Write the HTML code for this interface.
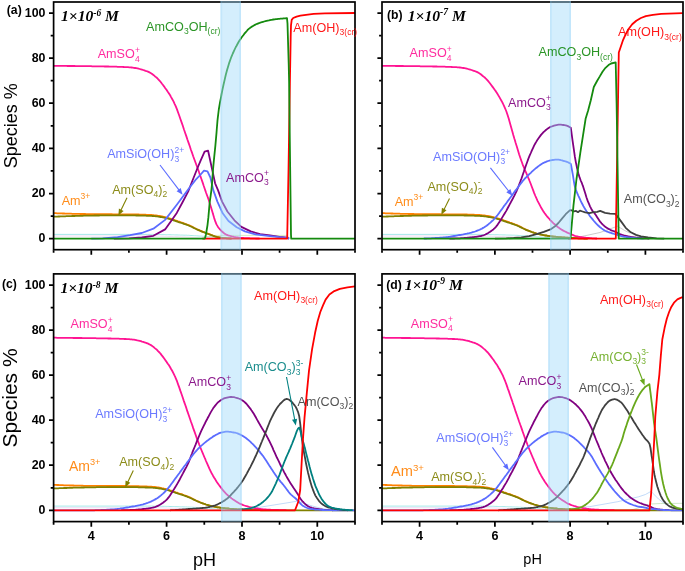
<!DOCTYPE html>
<html lang="en"><head><meta charset="utf-8"><title>Am speciation vs pH</title>
<style>html,body{margin:0;padding:0;background:#fff}body{width:685px;height:571px;overflow:hidden}svg{display:block}</style></head>
<body>
<svg width="685" height="571" viewBox="0 0 685 571" font-family="'Liberation Sans', Arial, sans-serif">
<rect width="685" height="571" fill="#fff"/>
<g id="panel-a">
<clipPath id="clip-a"><rect x="53.6" y="2.0" width="301.4" height="247.7"/></clipPath>
<g clip-path="url(#clip-a)" fill="none" stroke-linejoin="round" stroke-linecap="butt">
<path d="M53.6 234.4 L147.8 234.4 L147.9 234.4 L149.0 234.4 L150.2 234.4 L151.4 234.4 L152.5 234.4 L153.7 234.5 L154.8 234.5 L156.0 234.5 L157.2 234.5 L158.3 234.5 L159.5 234.5 L160.7 234.5 L161.8 234.6 L163.0 234.6 L164.2 234.6 L165.3 234.6 L166.5 234.7 L167.6 234.7 L168.8 234.7 L170.0 234.7 L171.1 234.8 L172.3 234.8 L173.5 234.8 L174.6 234.9 L175.8 234.9 L177.0 234.9 L178.1 235.0 L179.3 235.0 L180.4 235.1 L181.6 235.1 L182.8 235.1 L183.9 235.2 L185.1 235.2 L185.5 235.2 L186.3 235.2 L187.4 235.3 L188.6 235.3 L189.8 235.4 L190.9 235.5 L192.1 235.5 L193.2 235.6 L194.4 235.7 L195.6 235.7 L196.7 235.8 L197.9 235.9 L199.1 236.0 L200.2 236.1 L201.4 236.1 L202.6 236.2 L203.7 236.3 L204.3 236.3 L204.9 236.4 L206.0 236.5 L207.2 236.6 L208.4 236.7 L209.5 236.8 L210.7 236.9 L211.9 237.0 L213.0 237.1 L214.2 237.2 L215.4 237.3 L216.5 237.4 L217.7 237.5 L218.8 237.6 L220.0 237.7 L221.2 237.8 L222.3 237.9 L223.1 237.9 L223.5 237.9 L224.7 238.0 L225.8 238.1 L227.0 238.1 L228.2 238.2 L229.3 238.2 L230.5 238.3 L231.6 238.3 L232.8 238.4 L234.0 238.4 L235.1 238.5 L236.3 238.5 L237.5 238.5" stroke="#8fe3e3" stroke-width="0.8"/>
<path d="M53.6 236.0 L147.8 236.0 L147.9 236.0 L149.0 236.0 L150.2 236.0 L151.4 236.0 L152.5 236.0 L153.7 236.0 L154.8 236.1 L156.0 236.1 L157.2 236.1 L158.3 236.1 L159.5 236.1 L160.7 236.2 L161.8 236.2 L163.0 236.2 L164.2 236.3 L165.3 236.3 L166.5 236.3 L167.6 236.4 L168.8 236.4 L170.0 236.4 L171.1 236.5 L172.3 236.5 L173.5 236.6 L174.6 236.6 L175.8 236.6 L177.0 236.7 L178.1 236.7 L179.3 236.8 L180.4 236.8 L181.6 236.9 L182.8 236.9 L183.9 237.0 L185.1 237.0 L185.5 237.0 L186.3 237.1 L187.4 237.1 L188.6 237.2 L189.8 237.2 L190.9 237.3 L192.1 237.4 L193.2 237.5 L194.4 237.6 L195.6 237.6 L196.7 237.7 L197.9 237.8 L199.1 237.9 L200.2 238.0 L201.4 238.0 L202.6 238.1 L203.7 238.1 L204.3 238.1 L204.9 238.2 L206.0 238.2 L207.2 238.2 L208.4 238.3 L209.5 238.3 L210.7 238.4 L211.9 238.4 L213.0 238.4 L214.2 238.5 L215.4 238.5 L216.5 238.5 L217.7 238.5" stroke="#e3c4ee" stroke-width="0.6"/>
<path d="M200.5 238.6 L215.6 235.4 L287.2 235.4 L289.1 238.6" stroke="#c8e4a8" stroke-width="0.7"/>
<path d="M53.6 213.1 L54.8 213.2 L55.9 213.2 L57.1 213.3 L58.3 213.3 L59.4 213.4 L60.6 213.4 L61.7 213.4 L62.9 213.5 L64.1 213.5 L65.2 213.6 L66.4 213.6 L67.6 213.6 L68.7 213.7 L69.9 213.7 L71.1 213.7 L72.2 213.8 L72.4 213.8 L73.4 213.8 L74.5 213.8 L75.7 213.9 L76.9 213.9 L78.0 213.9 L79.2 213.9 L80.4 214.0 L81.5 214.0 L82.7 214.0 L83.9 214.0 L85.0 214.0 L86.2 214.1 L87.3 214.1 L88.5 214.1 L89.7 214.1 L90.8 214.1 L91.3 214.1 L92.0 214.1 L93.2 214.1 L94.3 214.1 L95.5 214.2 L96.7 214.2 L97.8 214.2 L99.0 214.2 L100.1 214.2 L101.3 214.2 L102.5 214.2 L103.6 214.2 L104.8 214.2 L106.0 214.2 L107.1 214.2 L108.3 214.2 L109.5 214.2 L110.1 214.2 L110.6 214.2 L111.8 214.2 L112.9 214.3 L114.1 214.3 L115.3 214.3 L116.4 214.3 L117.6 214.3 L118.8 214.3 L119.9 214.3 L121.1 214.3 L122.3 214.3 L123.4 214.3 L124.6 214.3 L125.7 214.3 L126.9 214.3 L128.1 214.3 L129.2 214.3 L130.1 214.3 L130.4 214.4 L131.6 214.4 L132.7 214.4 L133.9 214.4 L135.1 214.4 L136.2 214.5 L137.4 214.5 L138.6 214.5 L139.7 214.6 L140.9 214.6 L142.0 214.6 L143.2 214.7 L144.0 214.7 L144.4 214.7 L145.5 214.7 L146.7 214.8 L147.9 214.8 L149.0 214.9 L150.2 214.9 L151.4 215.0 L152.5 215.1 L153.4 215.1 L153.7 215.2 L154.8 215.3 L156.0 215.4 L157.2 215.6 L158.3 215.8 L159.5 216.0 L160.7 216.2 L161.8 216.4 L163.0 216.7 L164.2 217.0 L165.1 217.2 L165.3 217.2 L166.5 217.5 L167.6 217.8 L168.8 218.2 L170.0 218.5 L171.1 218.9 L172.3 219.3 L173.5 219.7 L174.6 220.1 L175.8 220.5 L176.8 220.9 L177.0 220.9 L178.1 221.3 L179.3 221.7 L180.4 222.1 L181.6 222.5 L182.8 222.9 L183.9 223.3 L185.1 223.8 L186.3 224.2 L187.4 224.7 L188.6 225.1 L189.2 225.4 L189.8 225.6 L190.9 226.2 L192.1 226.7 L193.2 227.3 L194.4 228.0 L195.6 228.5 L196.7 229.1 L197.3 229.4 L197.9 229.6 L199.1 230.1 L200.2 230.6 L201.4 231.1 L202.6 231.6 L203.7 232.0 L204.9 232.5 L206.0 232.9 L207.2 233.4 L208.4 233.8 L209.5 234.2 L210.7 234.7 L211.0 234.8 L211.9 235.1 L213.0 235.5 L214.2 236.0 L215.4 236.4 L216.5 236.7 L216.9 236.8 L217.7 237.0 L218.8 237.2 L220.0 237.5 L221.2 237.7 L222.3 237.8 L223.1 237.9 L223.5 238.0 L224.7 238.1 L225.8 238.2 L227.0 238.3 L228.2 238.4 L229.3 238.4 L230.5 238.5 L231.6 238.5" stroke="#ff8000" stroke-width="1.8"/>
<path d="M53.6 216.7 L54.8 216.7 L55.9 216.6 L57.1 216.6 L58.3 216.5 L59.4 216.5 L60.6 216.4 L61.7 216.4 L62.9 216.4 L64.1 216.3 L65.2 216.3 L66.4 216.2 L67.6 216.2 L68.7 216.2 L69.9 216.1 L71.1 216.1 L72.2 216.0 L72.4 216.0 L73.4 216.0 L74.5 216.0 L75.7 215.9 L76.9 215.9 L78.0 215.9 L79.2 215.9 L80.4 215.8 L81.5 215.8 L82.7 215.8 L83.9 215.7 L85.0 215.7 L86.2 215.7 L87.3 215.7 L88.5 215.6 L89.7 215.6 L90.8 215.6 L91.3 215.6 L92.0 215.6 L93.2 215.6 L94.3 215.5 L95.5 215.5 L96.7 215.5 L97.8 215.5 L99.0 215.5 L100.1 215.4 L101.3 215.4 L102.5 215.4 L103.6 215.4 L104.8 215.4 L106.0 215.4 L107.1 215.4 L108.3 215.4 L109.5 215.4 L110.1 215.4 L130.1 215.4 L130.4 215.4 L131.6 215.4 L132.7 215.4 L133.9 215.4 L135.1 215.4 L136.2 215.5 L137.4 215.5 L138.6 215.5 L139.7 215.6 L140.9 215.6 L142.0 215.6 L143.2 215.7 L144.0 215.7 L144.4 215.7 L145.5 215.7 L146.7 215.8 L147.9 215.8 L149.0 215.8 L150.2 215.9 L151.4 215.9 L152.5 216.0 L153.4 216.0 L153.7 216.1 L154.8 216.1 L156.0 216.3 L157.2 216.4 L158.3 216.6 L159.5 216.8 L160.7 217.0 L161.8 217.2 L163.0 217.4 L164.2 217.6 L165.1 217.8 L165.3 217.9 L166.5 218.2 L167.6 218.5 L168.8 218.8 L170.0 219.2 L171.1 219.5 L172.3 219.9 L173.5 220.3 L174.6 220.7 L175.8 221.1 L176.8 221.5 L177.0 221.5 L178.1 221.9 L179.3 222.3 L180.4 222.6 L181.6 223.0 L182.8 223.4 L183.9 223.8 L185.1 224.2 L186.3 224.6 L187.4 225.0 L188.6 225.5 L189.2 225.7 L189.8 226.0 L190.9 226.5 L192.1 227.0 L193.2 227.6 L194.4 228.2 L195.6 228.8 L196.7 229.3 L197.3 229.6 L197.9 229.8 L199.1 230.3 L200.2 230.8 L201.4 231.3 L202.6 231.8 L203.7 232.2 L204.9 232.7 L206.0 233.1 L207.2 233.6 L208.4 234.0 L209.5 234.5 L210.7 234.9 L211.0 235.0 L211.9 235.3 L213.0 235.8 L214.2 236.2 L215.4 236.6 L216.5 236.9 L216.9 237.0 L217.7 237.2 L218.8 237.4 L220.0 237.6 L221.2 237.8 L222.3 238.0 L223.1 238.0 L223.5 238.1 L224.7 238.2 L225.8 238.2 L227.0 238.3 L228.2 238.4 L229.3 238.5 L230.5 238.5 L231.6 238.6" stroke="#808000" stroke-width="1.8"/>
<path d="M53.6 65.8 L54.8 65.8 L55.9 65.8 L57.1 65.8 L58.3 65.8 L59.4 65.9 L60.6 65.9 L61.7 65.9 L62.9 65.9 L64.1 65.9 L65.2 65.9 L66.4 65.9 L67.6 66.0 L68.7 66.0 L69.9 66.0 L71.1 66.0 L72.2 66.0 L72.4 66.0 L73.4 66.0 L74.5 66.0 L75.7 66.1 L76.9 66.1 L78.0 66.1 L79.2 66.1 L80.4 66.1 L81.5 66.1 L82.7 66.1 L83.9 66.1 L85.0 66.2 L86.2 66.2 L87.3 66.2 L88.5 66.2 L89.7 66.2 L90.8 66.2 L91.3 66.2 L92.0 66.3 L93.2 66.3 L94.3 66.3 L95.5 66.3 L96.7 66.3 L97.8 66.3 L99.0 66.4 L100.1 66.4 L101.3 66.4 L102.5 66.4 L103.6 66.4 L104.8 66.5 L106.0 66.5 L107.1 66.5 L108.3 66.5 L109.5 66.6 L110.1 66.6 L110.6 66.6 L111.8 66.6 L112.9 66.7 L114.1 66.7 L115.3 66.7 L116.4 66.7 L117.6 66.8 L118.8 66.8 L119.9 66.9 L121.1 66.9 L122.3 66.9 L123.4 67.0 L124.6 67.1 L125.7 67.1 L126.9 67.2 L128.1 67.2 L129.2 67.3 L130.1 67.4 L130.4 67.4 L131.6 67.5 L132.7 67.6 L133.9 67.8 L135.1 68.0 L136.2 68.2 L137.4 68.4 L138.6 68.7 L139.7 69.0 L140.9 69.3 L142.0 69.6 L143.2 70.0 L144.4 70.4 L145.5 70.8 L146.7 71.2 L147.4 71.4 L147.9 71.6 L149.0 72.1 L150.2 72.8 L151.4 73.5 L152.5 74.3 L153.7 75.2 L154.8 76.2 L156.0 77.1 L156.5 77.5 L157.2 78.2 L158.3 79.3 L159.5 80.6 L160.7 82.0 L161.8 83.5 L163.0 85.0 L164.2 86.6 L165.1 87.9 L165.3 88.2 L166.5 89.8 L167.6 91.5 L168.8 93.2 L170.0 95.1 L170.4 95.8 L171.1 97.1 L172.3 99.2 L173.5 101.4 L174.6 103.8 L175.1 104.8 L175.8 106.4 L177.0 109.4 L178.1 112.5 L179.3 115.7 L179.8 117.2 L180.4 119.0 L181.6 122.4 L182.8 125.8 L183.9 129.3 L184.6 131.2 L185.1 132.7 L186.3 136.1 L187.4 139.5 L188.6 142.9 L189.8 146.3 L190.9 149.7 L191.9 152.4 L192.1 153.0 L193.2 156.3 L194.4 159.5 L195.6 162.7 L196.7 165.8 L197.9 169.0 L199.1 172.3 L199.2 172.7 L200.2 175.6 L201.4 179.0 L202.6 182.4 L203.7 185.8 L204.9 189.2 L205.2 190.1 L206.0 192.5 L207.2 195.7 L208.4 198.9 L209.3 201.6 L209.5 202.4 L210.7 206.3 L211.9 210.3 L212.8 213.3 L213.0 214.1 L214.2 218.1 L215.4 221.7 L216.3 223.9 L216.5 224.4 L217.7 226.4 L218.8 228.0 L220.0 229.4 L220.4 229.8 L221.2 230.6 L222.3 231.8 L223.5 232.8 L224.7 233.7 L225.0 233.9 L225.8 234.3 L227.0 234.8 L228.2 235.3 L229.3 235.7 L230.5 236.0 L230.9 236.1 L231.6 236.3 L232.8 236.6 L234.0 236.9 L235.1 237.1 L236.3 237.4 L237.5 237.5 L238.6 237.7 L239.0 237.7 L239.8 237.8 L241.0 237.8 L242.1 237.9 L243.3 238.0 L244.4 238.1 L245.6 238.1 L246.8 238.2 L247.9 238.2 L249.1 238.2 L250.3 238.3 L251.4 238.3 L252.6 238.4 L253.3 238.4 L253.8 238.4 L254.9 238.4 L256.1 238.5 L257.2 238.5 L258.4 238.5 L259.6 238.5" stroke="#ff1493" stroke-width="1.8"/>
<path d="M113.9 238.6 L128.9 238.4 L141.8 237.5 L153.4 235.8 L165.1 229.4 L176.8 212.9 L182.4 202.5 L188.5 190.8 L192.6 180.2 L197.5 168.0 L200.5 160.8 L204.6 151.7 L208.1 150.7 L215.1 183.3 L218.0 190.1 L222.1 201.6 L227.4 211.5 L234.4 220.3 L241.4 226.9 L250.7 231.4 L260.1 234.1 L270.0 235.4 L279.6 236.8 L287.2 237.7 L289.1 238.6" stroke="#800080" stroke-width="1.8"/>
<path d="M91.3 238.6 L102.6 238.3 L117.6 237.2 L130.1 235.2 L141.8 233.0 L153.4 228.7 L165.1 219.9 L176.8 204.8 L188.5 189.0 L195.3 180.2 L200.2 175.0 L204.0 170.7 L207.5 171.4 L210.4 177.5 L213.3 190.1 L217.4 201.6 L222.7 213.3 L228.5 221.0 L236.7 227.3 L244.9 231.4 L255.4 234.3 L270.0 236.1 L279.6 237.2 L287.2 237.9 L289.1 238.6" stroke="#5b6cff" stroke-width="1.8"/>
<path d="M202.4 238.6 L287.2 238.6 L288.5 170.9 L290.0 76.2 L290.7 36.5 L291.0 25.4 L291.7 19.8 L293.2 18.0 L296.6 16.6 L300.4 15.7 L306.0 14.8 L313.6 13.9 L324.9 13.3 L355.0 13.0" stroke="#ff0000" stroke-width="1.8"/>
<path d="M53.6 238.6 L204.6 238.6 L204.9 238.4 L206.0 234.2 L207.2 227.0 L207.5 225.1 L208.4 217.2 L209.5 204.4 L209.8 201.6 L210.7 195.4 L211.4 190.1 L211.9 185.0 L213.0 170.2 L213.3 166.4 L214.2 157.2 L215.4 145.4 L216.5 132.8 L216.7 130.3 L217.5 120.4 L217.7 118.6 L218.8 109.5 L220.0 102.4 L221.2 96.3 L221.6 94.0 L222.3 90.4 L223.5 84.8 L224.7 79.6 L225.8 74.7 L227.0 70.3 L228.2 66.2 L228.8 64.2 L229.3 62.6 L230.5 59.3 L231.6 56.3 L232.8 53.5 L234.0 50.9 L235.1 48.5 L235.9 46.8 L236.3 46.2 L237.5 44.0 L238.6 42.0 L239.8 40.1 L241.0 38.4 L241.2 38.0 L242.1 36.8 L243.3 35.3 L244.4 33.7 L245.6 32.3 L246.8 31.0 L247.9 29.7 L249.1 28.6 L250.3 27.7 L250.6 27.4 L251.4 26.9 L252.6 26.2 L253.8 25.5 L254.9 24.9 L256.1 24.3 L257.2 23.8 L258.4 23.3 L259.6 22.9 L260.7 22.5 L260.8 22.5 L261.9 22.1 L263.1 21.8 L264.2 21.5 L265.4 21.2 L266.6 20.9 L267.7 20.6 L268.9 20.4 L270.0 20.1 L271.2 19.9 L272.1 19.8 L272.4 19.7 L273.5 19.5 L274.7 19.4 L275.9 19.2 L277.0 19.1 L278.2 18.9 L279.4 18.8 L280.5 18.7 L281.7 18.6 L282.9 18.5 L283.4 18.4 L284.0 18.4 L285.2 18.3 L286.3 18.2 L287.0 18.2 L287.5 23.6 L288.7 63.5 L289.1 80.7 L289.8 139.9 L291.0 234.8 L291.2 238.6 L355.0 238.6" stroke="#148a0e" stroke-width="1.8"/>
</g>
<rect x="53.6" y="2.0" width="301.4" height="247.7" fill="none" stroke="#000" stroke-width="1.7"/>
<rect x="220.40" y="1.0" width="20.60" height="248.9" fill="#a0dafb" fill-opacity="0.45"/><rect x="220.40" y="1.0" width="1.8" height="248.9" fill="#6cc0f5" fill-opacity="0.16"/><rect x="239.20" y="1.0" width="1.8" height="248.9" fill="#6cc0f5" fill-opacity="0.16"/>
<path d="M53.1 238.6h-4.1 M53.1 216.0h-2.4 M53.1 193.5h-4.1 M53.1 170.9h-2.4 M53.1 148.4h-4.1 M53.1 125.8h-2.4 M53.1 103.2h-4.1 M53.1 80.7h-2.4 M53.1 58.1h-4.1 M53.1 35.6h-2.4 M53.1 13.0h-4.1 M53.6 250.2v2.6 M91.3 250.2v4.6 M128.9 250.2v2.6 M166.6 250.2v4.6 M204.3 250.2v2.6 M242.0 250.2v4.6 M279.6 250.2v2.6 M317.3 250.2v4.6 M355.0 250.2v2.6" stroke="#000" stroke-width="1.75" fill="none"/>
<text transform="translate(45.5,242.2) scale(1,1.08)" font-size="12.4" font-weight="bold" text-anchor="end">0</text>
<text transform="translate(45.5,197.1) scale(1,1.08)" font-size="12.4" font-weight="bold" text-anchor="end">20</text>
<text transform="translate(45.5,152.0) scale(1,1.08)" font-size="12.4" font-weight="bold" text-anchor="end">40</text>
<text transform="translate(45.5,106.8) scale(1,1.08)" font-size="12.4" font-weight="bold" text-anchor="end">60</text>
<text transform="translate(45.5,61.7) scale(1,1.08)" font-size="12.4" font-weight="bold" text-anchor="end">80</text>
<text transform="translate(45.5,16.6) scale(1,1.08)" font-size="12.4" font-weight="bold" text-anchor="end">100</text>
</g>
<g id="panel-b">
<clipPath id="clip-b"><rect x="382.0" y="2.0" width="301.0" height="247.7"/></clipPath>
<g clip-path="url(#clip-b)" fill="none" stroke-linejoin="round" stroke-linecap="butt">
<path d="M382.0 234.4 L476.1 234.4 L476.1 234.4 L477.3 234.4 L478.5 234.4 L479.6 234.4 L480.8 234.4 L481.9 234.5 L483.1 234.5 L484.3 234.5 L485.4 234.5 L486.6 234.5 L487.8 234.5 L488.9 234.5 L490.1 234.6 L491.2 234.6 L492.4 234.6 L493.6 234.6 L494.7 234.7 L495.9 234.7 L497.1 234.7 L498.2 234.7 L499.4 234.8 L500.5 234.8 L501.7 234.8 L502.9 234.9 L504.0 234.9 L505.2 234.9 L506.4 235.0 L507.5 235.0 L508.7 235.1 L509.8 235.1 L511.0 235.1 L512.2 235.2 L513.3 235.2 L513.7 235.2 L514.5 235.2 L515.6 235.3 L516.8 235.3 L518.0 235.4 L519.1 235.5 L520.3 235.5 L521.5 235.6 L522.6 235.7 L523.8 235.7 L524.9 235.8 L526.1 235.9 L527.3 236.0 L528.4 236.1 L529.6 236.1 L530.8 236.2 L531.9 236.3 L532.5 236.3 L533.1 236.4 L534.2 236.5 L535.4 236.6 L536.6 236.7 L537.7 236.8 L538.9 236.9 L540.1 237.0 L541.2 237.1 L542.4 237.2 L543.5 237.3 L544.7 237.4 L545.9 237.5 L547.0 237.6 L548.2 237.7 L549.4 237.8 L550.5 237.9 L551.3 237.9 L551.7 237.9 L552.8 238.0 L554.0 238.1 L555.2 238.1 L556.3 238.2 L557.5 238.2 L558.6 238.3 L559.8 238.3 L561.0 238.4 L562.1 238.4 L563.3 238.5 L564.5 238.5 L565.6 238.5" stroke="#8fe3e3" stroke-width="0.8"/>
<path d="M382.0 236.0 L476.1 236.0 L476.1 236.0 L477.3 236.0 L478.5 236.0 L479.6 236.0 L480.8 236.0 L481.9 236.0 L483.1 236.1 L484.3 236.1 L485.4 236.1 L486.6 236.1 L487.8 236.1 L488.9 236.2 L490.1 236.2 L491.2 236.2 L492.4 236.3 L493.6 236.3 L494.7 236.3 L495.9 236.4 L497.1 236.4 L498.2 236.4 L499.4 236.5 L500.5 236.5 L501.7 236.6 L502.9 236.6 L504.0 236.6 L505.2 236.7 L506.4 236.7 L507.5 236.8 L508.7 236.8 L509.8 236.9 L511.0 236.9 L512.2 237.0 L513.3 237.0 L513.7 237.0 L514.5 237.1 L515.6 237.1 L516.8 237.2 L518.0 237.2 L519.1 237.3 L520.3 237.4 L521.5 237.5 L522.6 237.6 L523.8 237.6 L524.9 237.7 L526.1 237.8 L527.3 237.9 L528.4 238.0 L529.6 238.0 L530.8 238.1 L531.9 238.1 L532.5 238.1 L533.1 238.2 L534.2 238.2 L535.4 238.2 L536.6 238.3 L537.7 238.3 L538.9 238.4 L540.1 238.4 L541.2 238.4 L542.4 238.5 L543.5 238.5 L544.7 238.5 L545.9 238.5" stroke="#e3c4ee" stroke-width="0.6"/>
<path d="M572.0 238.6 L600.0 232.5 L617.5 226.2 L624.7 230.5 L630.3 233.2" stroke="#b5b5b5" stroke-width="0.7"/>
<path d="M382.0 213.1 L383.2 213.2 L384.3 213.2 L385.5 213.3 L386.6 213.3 L387.8 213.4 L389.0 213.4 L390.1 213.4 L391.3 213.5 L392.5 213.5 L393.6 213.6 L394.8 213.6 L395.9 213.6 L397.1 213.7 L398.3 213.7 L399.4 213.7 L400.6 213.8 L400.8 213.8 L401.8 213.8 L402.9 213.8 L404.1 213.9 L405.2 213.9 L406.4 213.9 L407.6 213.9 L408.7 214.0 L409.9 214.0 L411.1 214.0 L412.2 214.0 L413.4 214.0 L414.5 214.1 L415.7 214.1 L416.9 214.1 L418.0 214.1 L419.2 214.1 L419.6 214.1 L420.4 214.1 L421.5 214.1 L422.7 214.1 L423.8 214.2 L425.0 214.2 L426.2 214.2 L427.3 214.2 L428.5 214.2 L429.6 214.2 L430.8 214.2 L432.0 214.2 L433.1 214.2 L434.3 214.2 L435.5 214.2 L436.6 214.2 L437.8 214.2 L438.4 214.2 L438.9 214.2 L440.1 214.2 L441.3 214.3 L442.4 214.3 L443.6 214.3 L444.8 214.3 L445.9 214.3 L447.1 214.3 L448.2 214.3 L449.4 214.3 L450.6 214.3 L451.7 214.3 L452.9 214.3 L454.1 214.3 L455.2 214.3 L456.4 214.3 L457.5 214.3 L458.4 214.3 L458.7 214.4 L459.9 214.4 L461.0 214.4 L462.2 214.4 L463.4 214.4 L464.5 214.5 L465.7 214.5 L466.8 214.5 L468.0 214.6 L469.2 214.6 L470.3 214.6 L471.5 214.7 L472.3 214.7 L472.6 214.7 L473.8 214.7 L475.0 214.8 L476.1 214.8 L477.3 214.9 L478.5 214.9 L479.6 215.0 L480.8 215.1 L481.7 215.1 L481.9 215.2 L483.1 215.3 L484.3 215.4 L485.4 215.6 L486.6 215.8 L487.8 216.0 L488.9 216.2 L490.1 216.4 L491.2 216.7 L492.4 217.0 L493.4 217.2 L493.6 217.2 L494.7 217.5 L495.9 217.8 L497.1 218.2 L498.2 218.5 L499.4 218.9 L500.5 219.3 L501.7 219.7 L502.9 220.1 L504.0 220.5 L505.0 220.9 L505.2 220.9 L506.4 221.3 L507.5 221.7 L508.7 222.1 L509.8 222.5 L511.0 222.9 L512.2 223.3 L513.3 223.8 L514.5 224.2 L515.6 224.7 L516.8 225.1 L517.5 225.4 L518.0 225.6 L519.1 226.2 L520.3 226.7 L521.5 227.3 L522.6 228.0 L523.8 228.5 L524.9 229.1 L525.5 229.4 L526.1 229.6 L527.3 230.1 L528.4 230.6 L529.6 231.1 L530.8 231.5 L531.9 232.0 L532.8 232.3 L533.1 232.4 L534.2 232.8 L535.4 233.1 L536.6 233.5 L537.7 233.8 L538.9 234.2 L540.0 234.4 L540.1 234.4 L541.2 234.7 L542.4 234.9 L543.5 235.1 L544.7 235.4 L545.9 235.5 L547.0 235.7 L547.4 235.8 L548.2 235.9 L549.4 236.1 L550.5 236.2 L551.7 236.4 L552.8 236.5 L554.0 236.6 L554.7 236.7 L555.2 236.7 L556.3 236.8 L557.5 236.9 L558.6 237.1 L559.8 237.1 L561.0 237.2 L562.1 237.3 L562.6 237.4 L563.3 237.4 L564.5 237.5 L565.6 237.6 L566.8 237.6 L567.9 237.7 L569.1 237.8 L570.1 237.8 L570.3 237.8 L571.4 237.9 L572.6 238.0 L573.8 238.0 L574.9 238.1 L576.1 238.1 L577.2 238.2 L578.4 238.3 L579.6 238.3 L580.7 238.4 L581.4 238.4 L581.9 238.4 L583.1 238.4 L584.2 238.5 L585.4 238.5 L586.5 238.5 L587.7 238.5" stroke="#ff8000" stroke-width="1.8"/>
<path d="M382.0 216.7 L383.2 216.7 L384.3 216.6 L385.5 216.6 L386.6 216.5 L387.8 216.5 L389.0 216.4 L390.1 216.4 L391.3 216.4 L392.5 216.3 L393.6 216.3 L394.8 216.2 L395.9 216.2 L397.1 216.2 L398.3 216.1 L399.4 216.1 L400.6 216.0 L400.8 216.0 L401.8 216.0 L402.9 216.0 L404.1 215.9 L405.2 215.9 L406.4 215.9 L407.6 215.9 L408.7 215.8 L409.9 215.8 L411.1 215.8 L412.2 215.7 L413.4 215.7 L414.5 215.7 L415.7 215.7 L416.9 215.6 L418.0 215.6 L419.2 215.6 L419.6 215.6 L420.4 215.6 L421.5 215.6 L422.7 215.5 L423.8 215.5 L425.0 215.5 L426.2 215.5 L427.3 215.5 L428.5 215.4 L429.6 215.4 L430.8 215.4 L432.0 215.4 L433.1 215.4 L434.3 215.4 L435.5 215.4 L436.6 215.4 L437.8 215.4 L438.4 215.4 L458.4 215.4 L458.7 215.4 L459.9 215.4 L461.0 215.4 L462.2 215.4 L463.4 215.4 L464.5 215.5 L465.7 215.5 L466.8 215.5 L468.0 215.6 L469.2 215.6 L470.3 215.6 L471.5 215.7 L472.3 215.7 L472.6 215.7 L473.8 215.7 L475.0 215.8 L476.1 215.8 L477.3 215.8 L478.5 215.9 L479.6 215.9 L480.8 216.0 L481.7 216.0 L481.9 216.1 L483.1 216.1 L484.3 216.3 L485.4 216.4 L486.6 216.6 L487.8 216.8 L488.9 217.0 L490.1 217.2 L491.2 217.4 L492.4 217.6 L493.4 217.8 L493.6 217.9 L494.7 218.2 L495.9 218.5 L497.1 218.8 L498.2 219.2 L499.4 219.5 L500.5 219.9 L501.7 220.3 L502.9 220.7 L504.0 221.1 L505.0 221.5 L505.2 221.5 L506.4 221.9 L507.5 222.3 L508.7 222.6 L509.8 223.0 L511.0 223.4 L512.2 223.8 L513.3 224.2 L514.5 224.6 L515.6 225.0 L516.8 225.5 L517.5 225.7 L518.0 226.0 L519.1 226.5 L520.3 227.1 L521.5 227.6 L522.6 228.2 L523.8 228.8 L524.9 229.3 L525.5 229.6 L526.1 229.8 L527.3 230.3 L528.4 230.7 L529.6 231.2 L530.8 231.6 L531.9 232.0 L532.8 232.3 L533.1 232.4 L534.2 232.8 L535.4 233.1 L536.6 233.5 L537.7 233.8 L538.9 234.2 L540.0 234.4 L540.1 234.4 L541.2 234.7 L542.4 234.9 L543.5 235.1 L544.7 235.4 L545.9 235.5 L547.0 235.7 L547.4 235.8 L548.2 235.9 L549.4 236.1 L550.5 236.2 L551.7 236.4 L552.8 236.5 L554.0 236.6 L554.7 236.7 L555.2 236.7 L556.3 236.8 L557.5 236.9 L558.6 237.1 L559.8 237.1 L561.0 237.2 L562.1 237.3 L562.6 237.4 L563.3 237.4 L564.5 237.5 L565.6 237.6 L566.8 237.6 L567.9 237.7 L569.1 237.8 L570.1 237.8 L570.3 237.8 L571.4 237.9 L572.6 238.0 L573.8 238.0 L574.9 238.1 L576.1 238.1 L577.2 238.2 L578.4 238.3 L579.6 238.3 L580.7 238.4 L581.4 238.4 L581.9 238.4 L583.1 238.4 L584.2 238.5 L585.4 238.5 L586.5 238.5 L587.7 238.5" stroke="#808000" stroke-width="1.8"/>
<path d="M382.0 65.8 L383.2 65.8 L384.3 65.8 L385.5 65.8 L386.6 65.8 L387.8 65.9 L389.0 65.9 L390.1 65.9 L391.3 65.9 L392.5 65.9 L393.6 65.9 L394.8 65.9 L395.9 66.0 L397.1 66.0 L398.3 66.0 L399.4 66.0 L400.6 66.0 L400.8 66.0 L401.8 66.0 L402.9 66.0 L404.1 66.1 L405.2 66.1 L406.4 66.1 L407.6 66.1 L408.7 66.1 L409.9 66.1 L411.1 66.1 L412.2 66.1 L413.4 66.2 L414.5 66.2 L415.7 66.2 L416.9 66.2 L418.0 66.2 L419.2 66.2 L419.6 66.2 L420.4 66.3 L421.5 66.3 L422.7 66.3 L423.8 66.3 L425.0 66.3 L426.2 66.3 L427.3 66.4 L428.5 66.4 L429.6 66.4 L430.8 66.4 L432.0 66.4 L433.1 66.5 L434.3 66.5 L435.5 66.5 L436.6 66.5 L437.8 66.6 L438.4 66.6 L438.9 66.6 L440.1 66.6 L441.3 66.7 L442.4 66.7 L443.6 66.7 L444.8 66.7 L445.9 66.8 L447.1 66.8 L448.2 66.9 L449.4 66.9 L450.6 66.9 L451.7 67.0 L452.9 67.1 L454.1 67.1 L455.2 67.2 L456.4 67.2 L457.5 67.3 L458.4 67.4 L458.7 67.4 L459.9 67.5 L461.0 67.6 L462.2 67.8 L463.4 68.0 L464.5 68.2 L465.7 68.4 L466.8 68.7 L468.0 69.0 L469.2 69.3 L470.3 69.6 L471.5 70.0 L472.6 70.4 L473.8 70.8 L475.0 71.2 L475.7 71.4 L476.1 71.6 L477.3 72.1 L478.5 72.8 L479.6 73.5 L480.8 74.3 L481.9 75.2 L483.1 76.2 L484.3 77.1 L484.7 77.5 L485.4 78.2 L486.6 79.3 L487.8 80.6 L488.9 82.0 L490.1 83.5 L491.2 85.0 L492.4 86.6 L493.4 87.9 L493.6 88.2 L494.7 89.8 L495.9 91.4 L497.1 93.2 L498.2 95.1 L498.6 95.8 L499.4 97.1 L500.5 99.1 L501.7 101.2 L502.9 103.5 L504.0 105.9 L505.2 108.6 L505.8 110.0 L506.4 111.5 L507.5 114.8 L508.7 118.6 L509.8 122.6 L511.0 126.7 L512.2 130.9 L513.3 135.1 L514.5 139.0 L514.6 139.3 L515.6 142.8 L516.8 146.6 L518.0 150.4 L519.1 154.2 L520.3 157.8 L521.5 161.2 L521.9 162.3 L522.6 164.3 L523.8 167.2 L524.9 170.0 L526.1 172.7 L527.3 175.4 L528.4 178.1 L529.2 179.9 L529.6 181.0 L530.8 184.0 L531.9 187.0 L533.1 190.1 L534.2 193.1 L535.4 196.0 L536.5 198.4 L536.6 198.6 L537.7 201.1 L538.9 203.4 L540.1 205.7 L541.2 207.8 L542.4 209.8 L543.5 211.6 L543.8 212.0 L544.7 213.3 L545.9 214.9 L547.0 216.3 L548.2 217.7 L549.4 219.0 L550.5 220.3 L551.1 220.9 L551.7 221.5 L552.8 222.7 L554.0 223.8 L555.2 224.8 L556.3 225.8 L557.5 226.8 L558.4 227.4 L558.6 227.6 L559.8 228.4 L561.0 229.2 L562.1 229.9 L563.3 230.6 L564.5 231.2 L565.6 231.8 L565.7 231.8 L566.8 232.4 L567.9 232.9 L569.1 233.4 L570.3 233.9 L570.8 234.1 L571.4 234.4 L572.6 234.9 L573.8 235.4 L574.9 235.8 L575.9 236.1 L576.1 236.2 L577.2 236.4 L578.4 236.7 L579.6 236.9 L580.7 237.1 L581.8 237.2 L581.9 237.3 L583.1 237.4 L584.2 237.6 L585.4 237.7 L586.5 237.8 L587.7 237.9 L588.9 238.0 L588.9 238.0 L590.0 238.1 L591.2 238.2 L592.4 238.3 L593.5 238.4 L594.7 238.4 L595.8 238.5 L597.0 238.5" stroke="#ff1493" stroke-width="1.8"/>
<path d="M449.4 238.5 L450.6 238.5 L451.7 238.5 L452.9 238.5 L454.1 238.5 L455.2 238.4 L456.4 238.4 L457.2 238.4 L457.5 238.4 L458.7 238.3 L459.9 238.3 L461.0 238.2 L462.2 238.1 L463.4 238.1 L464.5 238.0 L465.7 237.9 L466.8 237.8 L468.0 237.7 L469.2 237.6 L470.0 237.5 L470.3 237.4 L471.5 237.3 L472.6 237.2 L473.8 237.1 L475.0 236.9 L476.1 236.8 L477.3 236.6 L478.5 236.4 L479.6 236.2 L480.8 236.0 L481.7 235.8 L481.9 235.7 L483.1 235.4 L484.3 235.0 L485.4 234.5 L486.6 233.9 L487.8 233.3 L488.9 232.6 L490.1 231.8 L491.2 231.0 L492.4 230.1 L493.4 229.4 L493.6 229.2 L494.7 228.1 L495.9 226.8 L497.1 225.4 L498.2 223.8 L499.4 222.1 L500.5 220.2 L501.7 218.4 L502.9 216.4 L504.0 214.5 L505.0 212.9 L505.2 212.6 L506.4 210.6 L507.5 208.5 L508.7 206.3 L509.8 204.1 L510.7 202.5 L511.0 201.9 L512.2 199.7 L513.3 197.6 L514.5 195.4 L515.6 193.0 L516.7 190.8 L516.8 190.5 L518.0 187.7 L519.1 184.7 L520.3 181.6 L520.8 180.2 L521.5 178.5 L522.6 175.2 L523.8 171.8 L524.9 168.4 L526.1 165.0 L527.3 161.7 L528.4 158.6 L529.2 156.7 L529.6 155.7 L530.8 153.0 L531.9 150.3 L533.1 147.8 L534.2 145.4 L535.4 143.2 L536.5 141.4 L536.6 141.2 L537.7 139.4 L538.9 137.7 L540.1 136.1 L541.2 134.6 L542.4 133.3 L543.5 132.1 L543.8 131.9 L544.7 131.1 L545.9 130.0 L547.0 129.1 L548.2 128.2 L549.4 127.5 L550.5 126.9 L551.1 126.7 L551.7 126.5 L552.8 126.1 L554.0 125.7 L555.2 125.4 L556.3 125.1 L557.5 124.9 L558.6 124.7 L559.8 124.7 L559.9 124.7 L561.0 124.7 L562.1 124.8 L563.3 125.0 L564.5 125.2 L565.6 125.4 L566.8 125.7 L567.1 125.8 L567.9 126.1 L569.1 126.8 L569.7 127.2 L570.3 127.4 L570.8 127.8 L571.4 131.9 L571.6 133.5 L572.6 140.8 L573.0 143.6 L573.8 149.1 L574.9 156.9 L575.9 162.6 L576.1 163.4 L577.2 168.8 L578.4 173.4 L579.5 177.2 L579.6 177.3 L580.7 180.5 L581.9 183.2 L582.5 184.9 L583.1 186.4 L584.2 190.0 L585.4 193.8 L586.5 197.5 L587.7 200.9 L588.0 201.6 L588.9 203.7 L590.0 206.3 L591.2 208.7 L592.4 210.7 L592.6 211.1 L593.5 212.2 L594.7 213.5 L595.0 213.9 L595.8 215.1 L597.0 216.9 L598.2 218.8 L599.3 220.5 L600.1 221.6 L600.5 222.0 L601.6 223.3 L602.8 224.6 L604.0 225.7 L605.1 226.6 L605.1 226.7 L606.3 227.5 L607.5 228.3 L608.6 228.9 L609.8 229.5 L610.3 229.8 L610.9 230.1 L612.1 230.6 L613.3 231.0 L614.4 231.4 L615.4 231.8 L615.6 231.9 L616.8 232.5 L617.9 233.1 L619.1 233.7 L620.2 234.2 L620.5 234.3 L621.4 234.6 L622.6 235.0 L623.7 235.4 L624.9 235.7 L625.7 235.9 L626.1 236.0 L627.2 236.2 L628.4 236.5 L629.5 236.7 L630.7 236.9 L630.8 236.9 L631.9 237.1 L633.0 237.2 L634.2 237.3 L635.4 237.5 L636.5 237.6 L637.7 237.7 L637.9 237.7 L638.8 237.8 L640.0 237.9 L641.2 238.0 L642.3 238.2 L643.5 238.3 L644.6 238.3 L645.4 238.4 L645.8 238.4 L647.0 238.4 L648.1 238.5 L649.3 238.5" stroke="#800080" stroke-width="1.8"/>
<path d="M423.8 238.5 L425.0 238.5 L426.2 238.5 L427.3 238.4 L428.5 238.4 L429.6 238.3 L430.8 238.3 L430.9 238.3 L432.0 238.2 L433.1 238.2 L434.3 238.1 L435.5 238.0 L436.6 238.0 L437.8 237.9 L438.9 237.8 L440.1 237.7 L441.3 237.7 L442.4 237.6 L443.6 237.5 L444.8 237.4 L445.9 237.3 L446.0 237.2 L447.1 237.1 L448.2 237.0 L449.4 236.8 L450.6 236.6 L451.7 236.4 L452.9 236.2 L454.1 236.0 L455.2 235.8 L456.4 235.6 L457.5 235.4 L458.4 235.2 L458.7 235.2 L459.9 235.0 L461.0 234.8 L462.2 234.6 L463.4 234.4 L464.5 234.1 L465.7 233.9 L466.8 233.7 L468.0 233.4 L469.2 233.2 L470.0 233.0 L470.3 232.9 L471.5 232.6 L472.6 232.2 L473.8 231.9 L475.0 231.5 L476.1 231.1 L477.3 230.6 L478.5 230.2 L479.6 229.7 L480.8 229.1 L481.7 228.7 L481.9 228.6 L483.1 227.9 L484.3 227.2 L485.4 226.5 L486.6 225.7 L487.8 224.8 L488.9 223.8 L490.1 222.9 L491.2 221.8 L492.4 220.8 L493.4 219.9 L493.6 219.7 L494.7 218.5 L495.9 217.1 L497.1 215.7 L498.2 214.2 L499.4 212.6 L500.5 211.0 L501.7 209.4 L502.9 207.7 L504.0 206.1 L505.0 204.8 L505.2 204.6 L506.4 203.0 L507.5 201.4 L508.7 199.9 L509.8 198.3 L511.0 196.7 L512.2 195.1 L513.3 193.5 L514.5 191.9 L515.6 190.4 L516.7 189.0 L516.8 188.8 L518.0 187.3 L519.1 185.7 L520.3 184.1 L521.5 182.6 L522.6 181.2 L523.5 180.2 L523.8 179.8 L524.9 178.5 L526.1 177.3 L527.3 176.2 L528.4 175.0 L529.2 174.3 L529.6 173.9 L530.8 172.8 L531.9 171.7 L533.1 170.6 L534.2 169.6 L535.4 168.6 L536.5 167.8 L536.6 167.7 L537.7 166.8 L538.9 165.9 L540.1 165.0 L541.2 164.2 L542.4 163.5 L543.5 162.9 L543.8 162.8 L544.7 162.4 L545.9 161.9 L547.0 161.4 L548.2 161.0 L549.4 160.7 L550.5 160.4 L551.1 160.3 L551.7 160.2 L552.8 160.0 L554.0 159.9 L555.2 159.7 L556.3 159.7 L557.0 159.6 L557.5 159.7 L558.6 159.7 L559.8 159.9 L561.0 160.2 L562.1 160.4 L563.3 160.8 L564.2 161.0 L564.5 161.1 L565.6 161.4 L566.8 161.8 L567.9 162.3 L569.1 162.9 L569.4 163.0 L570.3 163.5 L570.8 163.9 L571.4 166.8 L571.6 168.0 L572.6 173.4 L573.0 175.7 L573.8 180.8 L574.5 184.9 L574.9 186.7 L576.0 190.1 L576.1 190.2 L577.2 193.2 L578.4 195.8 L578.8 196.6 L579.6 198.4 L580.7 200.9 L581.9 203.3 L583.1 205.5 L583.4 206.1 L584.2 207.5 L585.4 209.4 L586.5 211.2 L587.7 212.9 L588.0 213.3 L588.9 214.6 L590.0 216.2 L591.2 217.7 L592.4 219.1 L592.6 219.4 L593.5 220.5 L594.7 221.8 L595.0 222.1 L595.8 223.1 L597.0 224.3 L598.2 225.5 L599.3 226.5 L600.1 227.2 L600.5 227.5 L601.6 228.4 L602.8 229.3 L604.0 230.1 L605.1 230.7 L605.1 230.7 L606.3 231.3 L607.5 231.7 L608.6 232.2 L609.8 232.6 L610.3 232.7 L610.9 232.9 L612.1 233.3 L613.3 233.7 L614.4 234.0 L615.4 234.3 L615.6 234.4 L616.8 234.7 L617.9 235.1 L619.1 235.5 L620.2 235.8 L620.5 235.9 L621.4 236.1 L622.6 236.3 L623.7 236.6 L624.9 236.8 L625.7 236.9 L626.1 237.0 L627.2 237.1 L628.4 237.3 L629.5 237.4 L630.7 237.6 L630.8 237.6 L631.9 237.7 L633.0 237.8 L634.2 238.0 L635.4 238.1 L636.5 238.2 L637.7 238.3 L637.9 238.3 L638.8 238.3 L640.0 238.4 L641.2 238.5 L642.3 238.5 L643.5 238.6" stroke="#5b6cff" stroke-width="1.8"/>
<path d="M494.9 238.6 L506.2 238.4 L513.7 238.0 L521.2 237.4 L529.2 236.2 L536.5 234.1 L543.8 231.8 L551.1 229.1 L554.7 226.6 L558.4 223.0 L562.0 218.7 L565.7 214.2 L570.1 210.2 L571.6 210.4 L573.9 211.3 L576.1 210.9 L578.0 212.2 L579.9 210.6 L582.5 211.5 L585.2 212.4 L589.7 213.1 L593.5 212.2 L597.2 211.9 L600.2 210.9 L605.1 212.9 L610.0 213.6 L615.4 213.9 L620.5 220.6 L625.7 227.8 L630.8 232.3 L636.0 234.9 L641.0 236.3 L648.0 237.5 L656.7 238.3 L664.2 238.6" stroke="#404040" stroke-width="1.8"/>
<path d="M568.2 238.6 L615.8 238.6 L618.8 52.5 L622.8 40.7 L625.4 34.9 L628.4 29.2 L632.2 24.3 L636.3 20.7 L640.9 18.0 L645.8 16.2 L652.9 14.8 L661.2 13.9 L682.6 13.2" stroke="#ff0000" stroke-width="1.8"/>
<path d="M382.0 238.6 L570.5 238.6 L573.5 205.2 L576.5 179.0 L580.3 152.9 L585.6 118.8 L588.2 110.2 L590.8 100.3 L593.8 87.0 L597.2 80.7 L599.8 76.4 L602.5 71.7 L605.5 67.8 L608.5 65.1 L611.1 63.5 L615.7 62.4 L616.6 103.2 L618.7 238.6 L683.0 238.6" stroke="#148a0e" stroke-width="1.8"/>
</g>
<rect x="382.0" y="2.0" width="301.0" height="247.7" fill="none" stroke="#000" stroke-width="1.7"/>
<rect x="550.00" y="1.0" width="21.00" height="248.9" fill="#a0dafb" fill-opacity="0.45"/><rect x="550.00" y="1.0" width="1.8" height="248.9" fill="#6cc0f5" fill-opacity="0.16"/><rect x="569.20" y="1.0" width="1.8" height="248.9" fill="#6cc0f5" fill-opacity="0.16"/>
<path d="M381.5 238.6h-4.1 M381.5 216.0h-2.4 M381.5 193.5h-4.1 M381.5 170.9h-2.4 M381.5 148.4h-4.1 M381.5 125.8h-2.4 M381.5 103.2h-4.1 M381.5 80.7h-2.4 M381.5 58.1h-4.1 M381.5 35.6h-2.4 M381.5 13.0h-4.1 M382.0 250.2v2.6 M419.6 250.2v4.6 M457.2 250.2v2.6 M494.9 250.2v4.6 M532.5 250.2v2.6 M570.1 250.2v4.6 M607.8 250.2v2.6 M645.4 250.2v4.6 M683.0 250.2v2.6" stroke="#000" stroke-width="1.75" fill="none"/>
</g>
<g id="panel-c">
<clipPath id="clip-c"><rect x="53.6" y="273.9" width="301.4" height="247.7"/></clipPath>
<g clip-path="url(#clip-c)" fill="none" stroke-linejoin="round" stroke-linecap="butt">
<path d="M53.6 506.1 L147.8 506.1 L147.9 506.1 L149.0 506.1 L150.2 506.1 L151.4 506.1 L152.5 506.1 L153.7 506.2 L154.8 506.2 L156.0 506.2 L157.2 506.2 L158.3 506.2 L159.5 506.2 L160.7 506.3 L161.8 506.3 L163.0 506.3 L164.2 506.3 L165.3 506.3 L166.5 506.4 L167.6 506.4 L168.8 506.4 L170.0 506.5 L171.1 506.5 L172.3 506.5 L173.5 506.5 L174.6 506.6 L175.8 506.6 L177.0 506.7 L178.1 506.7 L179.3 506.7 L180.4 506.8 L181.6 506.8 L182.8 506.8 L183.9 506.9 L185.1 506.9 L185.5 506.9 L186.3 506.9 L187.4 507.0 L188.6 507.0 L189.8 507.1 L190.9 507.2 L192.1 507.2 L193.2 507.3 L194.4 507.4 L195.6 507.4 L196.7 507.5 L197.9 507.6 L199.1 507.7 L200.2 507.8 L201.4 507.8 L202.6 507.9 L203.7 508.0 L204.3 508.0 L204.9 508.1 L206.0 508.2 L207.2 508.3 L208.4 508.4 L209.5 508.5 L210.7 508.6 L211.9 508.7 L213.0 508.8 L214.2 508.9 L215.4 509.0 L216.5 509.1 L217.7 509.2 L218.8 509.3 L220.0 509.4 L221.2 509.5 L222.3 509.6 L223.1 509.6 L223.5 509.6 L224.7 509.7 L225.8 509.8 L227.0 509.8 L228.2 509.9 L229.3 509.9 L230.5 510.0 L231.6 510.0 L232.8 510.1 L234.0 510.1 L235.1 510.2 L236.3 510.2 L237.5 510.2" stroke="#8fe3e3" stroke-width="0.8"/>
<path d="M53.6 507.7 L147.8 507.7 L147.9 507.7 L149.0 507.7 L150.2 507.7 L151.4 507.7 L152.5 507.7 L153.7 507.7 L154.8 507.8 L156.0 507.8 L157.2 507.8 L158.3 507.8 L159.5 507.8 L160.7 507.9 L161.8 507.9 L163.0 507.9 L164.2 508.0 L165.3 508.0 L166.5 508.0 L167.6 508.1 L168.8 508.1 L170.0 508.1 L171.1 508.2 L172.3 508.2 L173.5 508.3 L174.6 508.3 L175.8 508.3 L177.0 508.4 L178.1 508.4 L179.3 508.5 L180.4 508.5 L181.6 508.6 L182.8 508.6 L183.9 508.7 L185.1 508.7 L185.5 508.7 L186.3 508.8 L187.4 508.8 L188.6 508.9 L189.8 508.9 L190.9 509.0 L192.1 509.1 L193.2 509.2 L194.4 509.3 L195.6 509.3 L196.7 509.4 L197.9 509.5 L199.1 509.6 L200.2 509.7 L201.4 509.7 L202.6 509.8 L203.7 509.8 L204.3 509.8 L204.9 509.9 L206.0 509.9 L207.2 509.9 L208.4 510.0 L209.5 510.0 L210.7 510.1 L211.9 510.1 L213.0 510.1 L214.2 510.2 L215.4 510.2 L216.5 510.2 L217.7 510.2" stroke="#e3c4ee" stroke-width="0.6"/>
<path d="M226.9 510.3 L253.3 508.3 L290.0 502.4 L297.4 501.1 L309.8 505.3 L321.1 508.3 L332.4 510.3" stroke="#a8cbf7" stroke-width="0.7"/>
<path d="M53.6 484.8 L54.8 484.9 L55.9 484.9 L57.1 485.0 L58.3 485.0 L59.4 485.1 L60.6 485.1 L61.7 485.2 L62.9 485.2 L64.1 485.3 L65.2 485.3 L66.4 485.3 L67.6 485.4 L68.7 485.4 L69.9 485.5 L71.1 485.5 L72.2 485.5 L72.4 485.5 L73.4 485.5 L74.5 485.6 L75.7 485.6 L76.9 485.6 L78.0 485.6 L79.2 485.7 L80.4 485.7 L81.5 485.7 L82.7 485.7 L83.9 485.8 L85.0 485.8 L86.2 485.8 L87.3 485.8 L88.5 485.8 L89.7 485.8 L90.8 485.9 L91.3 485.9 L92.0 485.9 L93.2 485.9 L94.3 485.9 L95.5 485.9 L96.7 485.9 L97.8 485.9 L99.0 485.9 L100.1 485.9 L101.3 485.9 L102.5 485.9 L103.6 485.9 L104.8 485.9 L106.0 485.9 L107.1 486.0 L108.3 486.0 L109.5 486.0 L110.1 486.0 L110.6 486.0 L111.8 486.0 L112.9 486.0 L114.1 486.0 L115.3 486.0 L116.4 486.0 L117.6 486.0 L118.8 486.0 L119.9 486.0 L121.1 486.0 L122.3 486.0 L123.4 486.0 L124.6 486.0 L125.7 486.0 L126.9 486.1 L128.1 486.1 L129.2 486.1 L130.1 486.1 L130.4 486.1 L131.6 486.1 L132.7 486.1 L133.9 486.1 L135.1 486.2 L136.2 486.2 L137.4 486.2 L138.6 486.2 L139.7 486.3 L140.9 486.3 L142.0 486.4 L143.2 486.4 L144.0 486.4 L144.4 486.4 L145.5 486.5 L146.7 486.5 L147.9 486.6 L149.0 486.6 L150.2 486.7 L151.4 486.7 L152.5 486.8 L153.4 486.9 L153.7 486.9 L154.8 487.0 L156.0 487.1 L157.2 487.3 L158.3 487.5 L159.5 487.7 L160.7 487.9 L161.8 488.2 L163.0 488.4 L164.2 488.7 L165.1 488.9 L165.3 488.9 L166.5 489.2 L167.6 489.5 L168.8 489.9 L170.0 490.3 L171.1 490.6 L172.3 491.0 L173.5 491.5 L174.6 491.9 L175.8 492.3 L176.8 492.6 L177.0 492.7 L178.1 493.1 L179.3 493.5 L180.4 493.8 L181.6 494.2 L182.8 494.7 L183.9 495.1 L185.1 495.5 L186.3 495.9 L187.4 496.4 L188.6 496.9 L189.2 497.1 L189.8 497.3 L190.9 497.9 L192.1 498.5 L193.2 499.1 L194.4 499.7 L195.6 500.3 L196.7 500.8 L197.3 501.1 L197.9 501.3 L199.1 501.8 L200.2 502.3 L201.4 502.8 L202.6 503.3 L203.7 503.7 L204.6 504.0 L204.9 504.1 L206.0 504.5 L207.2 504.9 L208.4 505.2 L209.5 505.5 L210.7 505.9 L211.8 506.1 L211.9 506.1 L213.0 506.4 L214.2 506.6 L215.4 506.9 L216.5 507.1 L217.7 507.3 L218.8 507.4 L219.2 507.5 L220.0 507.6 L221.2 507.8 L222.3 507.9 L223.5 508.1 L224.7 508.2 L225.8 508.3 L226.5 508.4 L227.0 508.4 L228.2 508.5 L229.3 508.7 L230.5 508.8 L231.6 508.8 L232.8 508.9 L234.0 509.0 L234.4 509.1 L235.1 509.1 L236.3 509.2 L237.5 509.3 L238.6 509.3 L239.8 509.4 L241.0 509.5 L242.0 509.5 L242.1 509.5 L243.3 509.6 L244.4 509.7 L245.6 509.7 L246.8 509.8 L247.9 509.8 L249.1 509.9 L250.3 510.0 L251.4 510.0 L252.6 510.1 L253.3 510.1 L253.8 510.1 L254.9 510.1 L256.1 510.2 L257.2 510.2 L258.4 510.2 L259.6 510.2" stroke="#ff8000" stroke-width="1.8"/>
<path d="M53.6 488.4 L54.8 488.4 L55.9 488.3 L57.1 488.3 L58.3 488.3 L59.4 488.2 L60.6 488.2 L61.7 488.1 L62.9 488.1 L64.1 488.0 L65.2 488.0 L66.4 488.0 L67.6 487.9 L68.7 487.9 L69.9 487.8 L71.1 487.8 L72.2 487.8 L72.4 487.8 L73.4 487.7 L74.5 487.7 L75.7 487.7 L76.9 487.6 L78.0 487.6 L79.2 487.6 L80.4 487.6 L81.5 487.5 L82.7 487.5 L83.9 487.5 L85.0 487.4 L86.2 487.4 L87.3 487.4 L88.5 487.4 L89.7 487.3 L90.8 487.3 L91.3 487.3 L92.0 487.3 L93.2 487.3 L94.3 487.3 L95.5 487.3 L96.7 487.2 L97.8 487.2 L99.0 487.2 L100.1 487.2 L101.3 487.2 L102.5 487.1 L103.6 487.1 L104.8 487.1 L106.0 487.1 L107.1 487.1 L108.3 487.1 L109.5 487.1 L110.1 487.1 L130.1 487.1 L130.4 487.1 L131.6 487.1 L132.7 487.1 L133.9 487.1 L135.1 487.2 L136.2 487.2 L137.4 487.2 L138.6 487.3 L139.7 487.3 L140.9 487.3 L142.0 487.4 L143.2 487.4 L144.0 487.4 L144.4 487.4 L145.5 487.5 L146.7 487.5 L147.9 487.5 L149.0 487.6 L150.2 487.6 L151.4 487.7 L152.5 487.7 L153.4 487.8 L153.7 487.8 L154.8 487.9 L156.0 488.0 L157.2 488.1 L158.3 488.3 L159.5 488.5 L160.7 488.7 L161.8 488.9 L163.0 489.1 L164.2 489.4 L165.1 489.6 L165.3 489.6 L166.5 489.9 L167.6 490.2 L168.8 490.5 L170.0 490.9 L171.1 491.3 L172.3 491.7 L173.5 492.0 L174.6 492.4 L175.8 492.8 L176.8 493.2 L177.0 493.2 L178.1 493.6 L179.3 494.0 L180.4 494.4 L181.6 494.7 L182.8 495.1 L183.9 495.5 L185.1 495.9 L186.3 496.3 L187.4 496.8 L188.6 497.2 L189.2 497.5 L189.8 497.7 L190.9 498.2 L192.1 498.8 L193.2 499.4 L194.4 499.9 L195.6 500.5 L196.7 501.0 L197.3 501.3 L197.9 501.5 L199.1 502.0 L200.2 502.5 L201.4 502.9 L202.6 503.3 L203.7 503.7 L204.6 504.0 L204.9 504.1 L206.0 504.5 L207.2 504.8 L208.4 505.2 L209.5 505.5 L210.7 505.9 L211.8 506.1 L211.9 506.1 L213.0 506.4 L214.2 506.6 L215.4 506.9 L216.5 507.1 L217.7 507.3 L218.8 507.4 L219.2 507.5 L220.0 507.6 L221.2 507.8 L222.3 507.9 L223.5 508.1 L224.7 508.2 L225.8 508.3 L226.5 508.4 L227.0 508.4 L228.2 508.5 L229.3 508.7 L230.5 508.8 L231.6 508.8 L232.8 508.9 L234.0 509.0 L234.4 509.1 L235.1 509.1 L236.3 509.2 L237.5 509.3 L238.6 509.3 L239.8 509.4 L241.0 509.5 L242.0 509.5 L242.1 509.5 L243.3 509.6 L244.4 509.7 L245.6 509.7 L246.8 509.8 L247.9 509.8 L249.1 509.9 L250.3 510.0 L251.4 510.0 L252.6 510.1 L253.3 510.1 L253.8 510.1 L254.9 510.1 L256.1 510.2 L257.2 510.2 L258.4 510.2 L259.6 510.2 L260.7 510.3 L261.9 510.3 L263.1 510.3 L264.2 510.3 L264.6 510.3 L355.0 510.3" stroke="#808000" stroke-width="1.8"/>
<path d="M53.6 337.7 L54.8 337.7 L55.9 337.7 L57.1 337.8 L58.3 337.8 L59.4 337.8 L60.6 337.8 L61.7 337.8 L62.9 337.8 L64.1 337.8 L65.2 337.9 L66.4 337.9 L67.6 337.9 L68.7 337.9 L69.9 337.9 L71.1 337.9 L72.2 337.9 L72.4 337.9 L73.4 338.0 L74.5 338.0 L75.7 338.0 L76.9 338.0 L78.0 338.0 L79.2 338.0 L80.4 338.0 L81.5 338.0 L82.7 338.1 L83.9 338.1 L85.0 338.1 L86.2 338.1 L87.3 338.1 L88.5 338.1 L89.7 338.1 L90.8 338.2 L91.3 338.2 L92.0 338.2 L93.2 338.2 L94.3 338.2 L95.5 338.2 L96.7 338.3 L97.8 338.3 L99.0 338.3 L100.1 338.3 L101.3 338.3 L102.5 338.3 L103.6 338.4 L104.8 338.4 L106.0 338.4 L107.1 338.4 L108.3 338.5 L109.5 338.5 L110.1 338.5 L110.6 338.5 L111.8 338.6 L112.9 338.6 L114.1 338.6 L115.3 338.6 L116.4 338.7 L117.6 338.7 L118.8 338.7 L119.9 338.8 L121.1 338.8 L122.3 338.9 L123.4 338.9 L124.6 339.0 L125.7 339.0 L126.9 339.1 L128.1 339.2 L129.2 339.2 L130.1 339.3 L130.4 339.3 L131.6 339.4 L132.7 339.6 L133.9 339.7 L135.1 339.9 L136.2 340.1 L137.4 340.4 L138.6 340.6 L139.7 340.9 L140.9 341.2 L142.0 341.6 L143.2 341.9 L144.4 342.3 L145.5 342.7 L146.7 343.1 L147.4 343.4 L147.9 343.5 L149.0 344.1 L150.2 344.7 L151.4 345.4 L152.5 346.3 L153.7 347.1 L154.8 348.1 L156.0 349.1 L156.5 349.4 L157.2 350.1 L158.3 351.3 L159.5 352.5 L160.7 353.9 L161.8 355.4 L163.0 356.9 L164.2 358.5 L165.1 359.8 L165.3 360.1 L166.5 361.7 L167.6 363.4 L168.8 365.1 L170.0 367.0 L170.4 367.7 L171.1 369.0 L172.3 371.0 L173.5 373.3 L174.6 375.7 L175.1 376.7 L175.8 378.3 L177.0 381.2 L178.1 384.4 L179.3 387.6 L179.8 389.1 L180.4 390.9 L181.6 394.2 L182.8 397.7 L183.9 401.1 L184.6 403.1 L185.1 404.5 L186.3 407.9 L187.4 411.4 L188.6 414.8 L189.8 418.2 L190.9 421.5 L191.9 424.2 L192.1 424.8 L193.2 428.1 L194.4 431.4 L195.6 434.7 L196.7 437.9 L197.9 441.1 L199.1 444.1 L199.2 444.5 L200.2 447.1 L201.4 450.0 L202.6 452.8 L203.7 455.5 L204.6 457.6 L204.9 458.2 L206.0 461.0 L207.2 463.7 L208.4 466.3 L209.5 468.9 L210.7 471.4 L211.8 473.6 L211.9 473.6 L213.0 475.7 L214.2 477.7 L215.4 479.6 L216.5 481.5 L217.7 483.2 L218.8 484.8 L219.2 485.3 L220.0 486.4 L221.2 487.9 L222.3 489.4 L223.5 490.8 L224.7 492.2 L225.8 493.4 L226.5 494.1 L227.0 494.5 L228.2 495.6 L229.3 496.6 L230.5 497.5 L231.6 498.4 L232.8 499.3 L233.8 499.9 L234.0 500.1 L235.1 500.8 L236.3 501.6 L237.5 502.3 L238.6 503.0 L239.8 503.6 L241.0 504.2 L241.1 504.2 L242.1 504.6 L243.3 505.1 L244.4 505.5 L245.6 505.9 L246.8 506.2 L247.9 506.6 L248.4 506.7 L249.1 506.9 L250.3 507.2 L251.4 507.4 L252.6 507.7 L253.8 507.9 L254.9 508.1 L255.7 508.3 L256.1 508.3 L257.2 508.5 L258.4 508.7 L259.6 508.8 L260.7 509.0 L261.9 509.1 L263.1 509.3 L264.2 509.4 L265.4 509.5 L265.9 509.5 L266.6 509.6 L267.7 509.6 L268.9 509.7 L270.0 509.7 L271.2 509.8 L272.4 509.8 L273.5 509.9 L274.7 509.9 L275.9 510.0 L277.0 510.0 L278.2 510.0 L279.4 510.1 L279.6 510.1 L280.5 510.1 L281.7 510.1 L282.9 510.2 L284.0 510.2 L285.2 510.2 L286.3 510.2" stroke="#ff1493" stroke-width="1.8"/>
<path d="M121.1 510.2 L122.3 510.2 L123.4 510.2 L124.6 510.2 L125.7 510.2 L126.9 510.1 L128.1 510.1 L128.9 510.1 L129.2 510.1 L130.4 510.0 L131.6 510.0 L132.7 509.9 L133.9 509.8 L135.1 509.8 L136.2 509.7 L137.4 509.6 L138.6 509.5 L139.7 509.4 L140.9 509.3 L141.8 509.2 L142.0 509.1 L143.2 509.0 L144.4 508.9 L145.5 508.8 L146.7 508.6 L147.9 508.5 L149.0 508.3 L150.2 508.1 L151.4 507.9 L152.5 507.7 L153.4 507.5 L153.7 507.4 L154.8 507.1 L156.0 506.7 L157.2 506.2 L158.3 505.6 L159.5 505.0 L160.7 504.3 L161.8 503.5 L163.0 502.7 L164.2 501.8 L165.1 501.1 L165.3 500.9 L166.5 499.8 L167.6 498.6 L168.8 497.1 L170.0 495.5 L171.1 493.8 L172.3 492.0 L173.5 490.1 L174.6 488.2 L175.8 486.3 L176.8 484.6 L177.0 484.4 L178.1 482.4 L179.3 480.3 L180.4 478.1 L181.6 475.8 L182.4 474.3 L182.8 473.6 L183.9 471.5 L185.1 469.3 L186.3 467.1 L187.4 464.8 L188.5 462.5 L188.6 462.3 L189.8 459.5 L190.9 456.4 L192.1 453.3 L192.6 451.9 L193.2 450.4 L194.4 447.5 L195.6 444.6 L196.7 441.7 L197.5 439.8 L197.9 438.9 L199.1 436.0 L200.2 433.3 L200.5 432.6 L201.4 430.7 L202.6 428.2 L203.7 425.8 L204.9 423.5 L206.0 421.2 L207.2 419.0 L207.3 418.8 L208.4 416.8 L209.5 414.6 L210.7 412.4 L211.9 410.4 L213.0 408.6 L213.7 407.6 L214.2 406.9 L215.4 405.4 L216.5 404.0 L217.7 402.7 L218.8 401.7 L219.4 401.3 L220.0 400.8 L221.2 400.0 L222.3 399.3 L223.5 398.7 L224.7 398.2 L225.0 398.1 L225.8 397.9 L227.0 397.6 L228.2 397.3 L229.3 397.1 L230.5 397.0 L231.4 397.0 L231.6 397.0 L232.8 397.1 L234.0 397.2 L235.1 397.5 L236.3 397.8 L237.5 398.1 L238.2 398.3 L238.6 398.5 L239.8 398.9 L241.0 399.5 L242.1 400.3 L243.3 401.1 L243.9 401.5 L244.4 401.9 L245.6 403.0 L246.8 404.2 L247.9 405.6 L249.1 407.1 L250.3 408.6 L251.4 410.2 L251.8 410.7 L252.6 411.9 L253.8 413.8 L254.9 415.7 L256.1 417.8 L257.2 419.9 L258.4 422.0 L259.6 424.1 L259.7 424.2 L260.7 426.0 L261.9 428.0 L263.1 429.9 L264.2 431.8 L265.4 433.8 L266.6 435.8 L267.7 437.9 L268.8 440.0 L268.9 440.1 L270.0 442.4 L271.2 444.9 L272.4 447.4 L273.5 450.1 L274.7 452.7 L275.9 455.3 L277.0 457.8 L277.6 458.9 L278.2 460.2 L279.4 462.6 L280.5 465.0 L281.7 467.3 L282.9 469.6 L284.0 471.9 L284.9 473.6 L285.2 474.0 L286.3 476.1 L287.5 478.2 L288.7 480.2 L289.8 482.1 L290.0 482.4 L291.0 483.9 L292.2 485.7 L293.3 487.5 L294.5 489.2 L295.7 491.0 L296.2 491.8 L296.8 492.7 L298.0 494.6 L299.1 496.5 L300.3 498.4 L301.5 500.1 L302.6 501.5 L302.9 501.7 L303.8 502.7 L305.0 503.8 L306.1 504.8 L307.3 505.7 L308.5 506.5 L309.4 506.9 L309.6 507.0 L310.8 507.4 L311.9 507.8 L313.1 508.1 L314.3 508.4 L315.4 508.6 L316.0 508.7 L316.6 508.8 L317.8 509.0 L318.9 509.2 L320.1 509.4 L321.3 509.5 L322.4 509.6 L323.6 509.8 L324.7 509.8 L324.9 509.8 L325.9 509.9 L327.1 510.0 L328.2 510.0 L329.4 510.1 L330.6 510.2 L331.7 510.2 L332.9 510.3" stroke="#800080" stroke-width="1.8"/>
<path d="M53.6 510.3 L91.3 510.3 L92.0 510.3 L93.2 510.3 L94.3 510.3 L95.5 510.2 L96.7 510.2 L97.8 510.2 L99.0 510.1 L100.1 510.1 L101.3 510.0 L102.5 510.0 L102.6 510.0 L103.6 509.9 L104.8 509.9 L106.0 509.8 L107.1 509.7 L108.3 509.7 L109.5 509.6 L110.6 509.5 L111.8 509.4 L112.9 509.4 L114.1 509.3 L115.3 509.2 L116.4 509.1 L117.6 509.0 L117.6 508.9 L118.8 508.8 L119.9 508.7 L121.1 508.5 L122.3 508.3 L123.4 508.1 L124.6 507.9 L125.7 507.7 L126.9 507.5 L128.1 507.3 L129.2 507.1 L130.1 506.9 L130.4 506.9 L131.6 506.7 L132.7 506.5 L133.9 506.3 L135.1 506.1 L136.2 505.8 L137.4 505.6 L138.6 505.4 L139.7 505.2 L140.9 504.9 L141.8 504.7 L142.0 504.6 L143.2 504.3 L144.4 503.9 L145.5 503.6 L146.7 503.2 L147.9 502.8 L149.0 502.3 L150.2 501.9 L151.4 501.4 L152.5 500.8 L153.4 500.4 L153.7 500.3 L154.8 499.6 L156.0 498.9 L157.2 498.2 L158.3 497.4 L159.5 496.5 L160.7 495.6 L161.8 494.6 L163.0 493.6 L164.2 492.5 L165.1 491.6 L165.3 491.4 L166.5 490.2 L167.6 488.9 L168.8 487.4 L170.0 485.9 L171.1 484.3 L172.3 482.7 L173.5 481.1 L174.6 479.5 L175.8 477.9 L176.8 476.5 L177.0 476.3 L178.1 474.8 L179.3 473.2 L180.4 471.6 L181.6 470.0 L182.8 468.4 L183.9 466.8 L185.1 465.3 L186.3 463.7 L187.4 462.1 L188.5 460.7 L188.6 460.6 L189.8 459.0 L190.9 457.5 L192.1 455.9 L193.2 454.4 L194.4 453.0 L195.3 451.9 L195.6 451.6 L196.7 450.3 L197.9 449.0 L199.1 447.8 L200.2 446.8 L200.2 446.7 L201.4 445.6 L202.6 444.6 L203.7 443.6 L204.9 442.6 L206.0 441.7 L207.2 440.8 L208.3 440.0 L208.4 439.9 L209.5 439.1 L210.7 438.2 L211.9 437.4 L213.0 436.6 L214.2 435.9 L215.4 435.2 L215.6 435.0 L216.5 434.6 L217.7 434.0 L218.8 433.4 L220.0 432.9 L221.2 432.6 L221.3 432.6 L222.3 432.3 L223.5 432.1 L224.7 431.9 L225.8 431.7 L227.0 431.7 L227.3 431.7 L228.2 431.7 L229.3 431.8 L230.5 431.9 L231.6 432.1 L232.8 432.3 L234.0 432.5 L234.4 432.6 L235.1 432.7 L236.3 433.0 L237.5 433.4 L238.6 433.9 L239.8 434.4 L241.0 435.0 L242.0 435.5 L242.1 435.6 L243.3 436.2 L244.4 437.0 L245.6 437.8 L246.8 438.7 L247.9 439.6 L248.4 440.0 L249.1 440.6 L250.3 441.6 L251.4 442.8 L252.6 443.9 L253.8 445.1 L254.9 446.3 L255.7 447.2 L256.1 447.6 L257.2 448.9 L258.4 450.2 L259.6 451.6 L260.7 453.1 L261.9 454.6 L263.0 456.0 L263.1 456.1 L264.2 457.7 L265.4 459.4 L266.6 461.2 L267.7 463.1 L268.9 464.9 L270.0 466.7 L270.3 467.0 L271.2 468.4 L272.4 470.2 L273.5 472.0 L274.7 473.7 L275.9 475.5 L277.0 477.1 L277.6 477.9 L278.2 478.7 L279.4 480.1 L280.5 481.6 L281.7 482.9 L282.9 484.3 L284.0 485.7 L284.9 486.9 L285.2 487.2 L286.3 488.8 L287.5 490.4 L288.7 492.0 L289.8 493.4 L290.0 493.6 L291.0 494.6 L292.2 495.6 L293.3 496.6 L294.5 497.5 L295.7 498.5 L296.2 499.0 L296.8 499.6 L298.0 500.9 L299.1 502.2 L300.3 503.5 L301.5 504.7 L302.6 505.7 L302.9 505.8 L303.8 506.3 L305.0 507.0 L306.1 507.5 L307.3 508.0 L308.5 508.4 L309.4 508.6 L309.6 508.7 L310.8 508.9 L311.9 509.0 L313.1 509.2 L314.3 509.3 L315.4 509.5 L316.6 509.6 L317.3 509.6 L317.8 509.7 L318.9 509.7 L320.1 509.8 L321.3 509.9 L322.4 510.0 L323.6 510.0 L324.7 510.1 L325.9 510.1 L327.1 510.2 L328.2 510.2 L328.6 510.2 L329.4 510.2 L330.6 510.2 L331.7 510.2 L332.9 510.3 L334.1 510.3 L335.2 510.3 L336.4 510.3 L337.5 510.3 L338.7 510.3 L339.9 510.3 L339.9 510.3 L355.0 510.3" stroke="#5b6cff" stroke-width="1.8"/>
<path d="M170.0 510.3 L171.1 510.2 L172.3 510.2 L173.5 510.1 L174.6 510.1 L175.8 510.0 L177.0 509.9 L178.1 509.8 L179.3 509.7 L180.4 509.7 L181.6 509.6 L182.8 509.5 L183.9 509.4 L185.1 509.3 L186.3 509.2 L187.4 509.1 L188.6 509.0 L189.8 509.0 L190.0 508.9 L190.9 508.9 L192.1 508.8 L193.2 508.7 L194.4 508.7 L195.6 508.6 L196.7 508.5 L197.9 508.4 L199.1 508.3 L200.2 508.2 L201.4 508.1 L202.6 508.0 L203.7 507.9 L204.6 507.8 L204.9 507.8 L206.0 507.6 L207.2 507.5 L208.4 507.2 L209.5 507.0 L210.7 506.7 L211.8 506.5 L211.9 506.5 L213.0 506.1 L214.2 505.7 L215.4 505.3 L216.5 504.8 L217.7 504.3 L218.8 503.7 L219.2 503.5 L220.0 503.1 L221.2 502.5 L222.3 501.9 L223.5 501.1 L224.7 500.4 L225.8 499.6 L226.5 499.0 L227.0 498.7 L228.2 497.7 L229.3 496.6 L230.5 495.4 L231.6 494.2 L232.8 492.9 L233.8 491.8 L234.0 491.6 L235.1 490.4 L236.3 489.1 L237.5 487.7 L238.6 486.3 L239.8 484.8 L241.0 483.3 L241.1 483.0 L242.1 481.6 L243.3 479.7 L244.4 477.7 L245.6 475.7 L246.8 473.6 L247.9 471.5 L248.4 470.6 L249.1 469.3 L250.3 467.1 L251.4 464.9 L252.6 462.5 L253.8 460.2 L254.9 457.7 L255.7 456.0 L256.1 455.2 L257.2 452.6 L258.4 449.9 L259.6 447.1 L260.7 444.3 L261.9 441.5 L262.5 440.0 L263.1 438.7 L264.2 435.9 L265.4 432.9 L266.6 429.9 L267.7 426.9 L268.9 424.0 L270.0 421.2 L271.2 418.6 L272.1 416.8 L272.4 416.3 L273.5 414.0 L274.7 411.8 L275.9 409.8 L277.0 407.9 L278.2 406.2 L279.4 404.7 L279.6 404.4 L280.5 403.5 L281.7 402.3 L282.9 401.1 L284.0 400.1 L285.2 399.4 L286.3 399.0 L286.8 399.0 L287.5 399.1 L288.7 399.5 L289.8 400.2 L291.0 401.2 L292.2 402.4 L293.3 403.8 L294.5 405.2 L294.7 405.5 L295.7 406.8 L296.8 409.0 L298.0 411.8 L299.1 415.7 L299.2 416.1 L300.3 424.4 L301.5 435.7 L301.5 436.0 L302.6 443.9 L303.8 451.1 L304.1 453.1 L305.0 457.7 L306.1 463.8 L307.3 469.4 L308.1 472.9 L308.5 474.4 L309.6 479.1 L310.8 483.3 L311.9 487.0 L312.1 487.3 L313.1 490.2 L314.3 493.1 L315.4 495.6 L316.0 496.6 L316.6 497.5 L317.8 499.2 L318.9 500.8 L320.1 502.2 L321.3 503.4 L322.4 504.3 L322.6 504.4 L323.6 505.1 L324.7 505.8 L325.9 506.4 L327.1 506.9 L328.2 507.4 L329.0 507.6 L329.4 507.7 L330.6 508.0 L331.7 508.3 L332.9 508.5 L334.1 508.8 L335.2 509.0 L336.4 509.1 L337.5 509.3 L338.4 509.4 L338.7 509.4 L339.9 509.6 L341.0 509.7 L342.2 509.8 L343.4 510.0 L344.5 510.1 L345.7 510.2 L346.9 510.2 L348.0 510.3" stroke="#404040" stroke-width="1.8"/>
<path d="M230.5 510.2 L231.6 510.2 L232.8 510.1 L234.0 510.1 L235.1 510.0 L236.3 509.9 L237.5 509.8 L238.6 509.7 L239.8 509.6 L241.0 509.5 L242.1 509.4 L243.3 509.3 L244.4 509.1 L245.6 509.0 L246.8 508.8 L247.9 508.7 L248.4 508.6 L249.1 508.5 L250.3 508.3 L251.4 508.0 L252.6 507.6 L253.8 507.2 L254.9 506.8 L255.7 506.5 L256.1 506.3 L257.2 505.8 L258.4 505.1 L259.6 504.4 L260.7 503.7 L261.9 502.8 L263.0 502.0 L263.1 501.9 L264.2 500.9 L265.4 499.9 L266.6 498.7 L267.7 497.4 L268.9 496.0 L270.0 494.4 L270.3 494.1 L271.2 492.7 L272.4 490.7 L273.5 488.4 L274.7 485.9 L275.9 483.3 L277.0 480.7 L277.6 479.4 L278.2 478.0 L279.4 475.1 L280.5 472.1 L281.7 468.9 L282.9 465.8 L284.0 462.8 L284.9 460.5 L285.2 459.9 L286.3 457.2 L287.5 454.5 L288.7 451.9 L289.8 449.2 L290.0 448.8 L291.0 446.4 L292.2 443.5 L293.3 440.6 L293.6 440.0 L294.5 437.7 L295.7 434.3 L296.8 431.1 L298.0 428.7 L299.1 427.6 L299.2 427.6 L300.3 430.5 L301.5 435.8 L301.5 436.0 L302.6 440.0 L303.8 444.1 L304.8 447.9 L305.0 448.4 L306.1 453.1 L307.3 457.8 L308.1 461.0 L308.5 462.3 L309.6 466.8 L310.8 471.2 L311.9 475.2 L312.1 475.6 L313.1 479.0 L314.3 482.6 L315.4 485.9 L316.0 487.3 L316.6 488.7 L317.8 491.4 L318.9 494.0 L320.1 496.3 L321.3 498.4 L322.4 500.1 L322.6 500.4 L323.6 501.6 L324.7 503.0 L325.9 504.2 L327.1 505.3 L328.2 506.1 L329.0 506.5 L329.4 506.6 L330.6 507.1 L331.7 507.5 L332.9 507.8 L334.1 508.1 L335.2 508.4 L336.4 508.6 L337.5 508.8 L338.4 508.9 L338.7 509.0 L339.9 509.2 L341.0 509.3 L342.2 509.5 L343.4 509.6 L344.5 509.7 L345.7 509.8 L346.9 509.9 L348.0 510.0 L349.2 510.1 L349.3 510.1 L350.3 510.1 L351.5 510.2 L352.7 510.2" stroke="#008080" stroke-width="1.8"/>
<path d="M53.6 510.3 L295.0 510.3 L298.3 501.7 L300.2 490.0 L300.7 480.1 L302.9 440.0 L304.5 417.9 L306.8 393.1 L309.0 370.6 L312.1 349.2 L315.1 332.8 L317.7 321.0 L320.3 312.0 L323.0 305.3 L325.6 299.6 L329.4 294.5 L334.3 291.1 L339.9 288.8 L347.5 287.3 L355.0 286.4" stroke="#ff0000" stroke-width="1.8"/>
</g>
<rect x="53.6" y="273.9" width="301.4" height="247.7" fill="none" stroke="#000" stroke-width="1.7"/>
<rect x="221.00" y="272.9" width="20.80" height="248.9" fill="#a0dafb" fill-opacity="0.45"/><rect x="221.00" y="272.9" width="1.8" height="248.9" fill="#6cc0f5" fill-opacity="0.16"/><rect x="240.00" y="272.9" width="1.8" height="248.9" fill="#6cc0f5" fill-opacity="0.16"/>
<path d="M53.1 510.3h-4.1 M53.1 487.8h-2.4 M53.1 465.2h-4.1 M53.1 442.7h-2.4 M53.1 420.2h-4.1 M53.1 397.6h-2.4 M53.1 375.1h-4.1 M53.1 352.6h-2.4 M53.1 330.1h-4.1 M53.1 307.5h-2.4 M53.1 285.0h-4.1 M53.6 522.1v2.6 M91.3 522.1v4.6 M128.9 522.1v2.6 M166.6 522.1v4.6 M204.3 522.1v2.6 M242.0 522.1v4.6 M279.6 522.1v2.6 M317.3 522.1v4.6 M355.0 522.1v2.6" stroke="#000" stroke-width="1.75" fill="none"/>
<text transform="translate(45.5,513.9) scale(1,1.08)" font-size="12.4" font-weight="bold" text-anchor="end">0</text>
<text transform="translate(45.5,468.8) scale(1,1.08)" font-size="12.4" font-weight="bold" text-anchor="end">20</text>
<text transform="translate(45.5,423.8) scale(1,1.08)" font-size="12.4" font-weight="bold" text-anchor="end">40</text>
<text transform="translate(45.5,378.7) scale(1,1.08)" font-size="12.4" font-weight="bold" text-anchor="end">60</text>
<text transform="translate(45.5,333.7) scale(1,1.08)" font-size="12.4" font-weight="bold" text-anchor="end">80</text>
<text transform="translate(45.5,288.6) scale(1,1.08)" font-size="12.4" font-weight="bold" text-anchor="end">100</text>
<text transform="translate(91.3,539.8) scale(1,1.08)" font-size="12.6" font-weight="bold" text-anchor="middle">4</text>
<text transform="translate(166.6,539.8) scale(1,1.08)" font-size="12.6" font-weight="bold" text-anchor="middle">6</text>
<text transform="translate(242.0,539.8) scale(1,1.08)" font-size="12.6" font-weight="bold" text-anchor="middle">8</text>
<text transform="translate(317.3,539.8) scale(1,1.08)" font-size="12.6" font-weight="bold" text-anchor="middle">10</text>
</g>
<g id="panel-d">
<clipPath id="clip-d"><rect x="382.0" y="273.9" width="301.0" height="247.7"/></clipPath>
<g clip-path="url(#clip-d)" fill="none" stroke-linejoin="round" stroke-linecap="butt">
<path d="M382.0 506.1 L476.1 506.1 L476.1 506.1 L477.3 506.1 L478.5 506.1 L479.6 506.1 L480.8 506.1 L481.9 506.2 L483.1 506.2 L484.3 506.2 L485.4 506.2 L486.6 506.2 L487.8 506.2 L488.9 506.3 L490.1 506.3 L491.2 506.3 L492.4 506.3 L493.6 506.3 L494.7 506.4 L495.9 506.4 L497.1 506.4 L498.2 506.5 L499.4 506.5 L500.5 506.5 L501.7 506.5 L502.9 506.6 L504.0 506.6 L505.2 506.7 L506.4 506.7 L507.5 506.7 L508.7 506.8 L509.8 506.8 L511.0 506.8 L512.2 506.9 L513.3 506.9 L513.7 506.9 L514.5 506.9 L515.6 507.0 L516.8 507.0 L518.0 507.1 L519.1 507.2 L520.3 507.2 L521.5 507.3 L522.6 507.4 L523.8 507.4 L524.9 507.5 L526.1 507.6 L527.3 507.7 L528.4 507.8 L529.6 507.8 L530.8 507.9 L531.9 508.0 L532.5 508.0 L533.1 508.1 L534.2 508.2 L535.4 508.3 L536.6 508.4 L537.7 508.5 L538.9 508.6 L540.1 508.7 L541.2 508.8 L542.4 508.9 L543.5 509.0 L544.7 509.1 L545.9 509.2 L547.0 509.3 L548.2 509.4 L549.4 509.5 L550.5 509.6 L551.3 509.6 L551.7 509.6 L552.8 509.7 L554.0 509.8 L555.2 509.8 L556.3 509.9 L557.5 509.9 L558.6 510.0 L559.8 510.0 L561.0 510.1 L562.1 510.1 L563.3 510.2 L564.5 510.2 L565.6 510.2" stroke="#8fe3e3" stroke-width="0.8"/>
<path d="M382.0 507.7 L476.1 507.7 L476.1 507.7 L477.3 507.7 L478.5 507.7 L479.6 507.7 L480.8 507.7 L481.9 507.7 L483.1 507.8 L484.3 507.8 L485.4 507.8 L486.6 507.8 L487.8 507.8 L488.9 507.9 L490.1 507.9 L491.2 507.9 L492.4 508.0 L493.6 508.0 L494.7 508.0 L495.9 508.1 L497.1 508.1 L498.2 508.1 L499.4 508.2 L500.5 508.2 L501.7 508.3 L502.9 508.3 L504.0 508.3 L505.2 508.4 L506.4 508.4 L507.5 508.5 L508.7 508.5 L509.8 508.6 L511.0 508.6 L512.2 508.7 L513.3 508.7 L513.7 508.7 L514.5 508.8 L515.6 508.8 L516.8 508.9 L518.0 508.9 L519.1 509.0 L520.3 509.1 L521.5 509.2 L522.6 509.3 L523.8 509.3 L524.9 509.4 L526.1 509.5 L527.3 509.6 L528.4 509.7 L529.6 509.7 L530.8 509.8 L531.9 509.8 L532.5 509.8 L533.1 509.9 L534.2 509.9 L535.4 509.9 L536.6 510.0 L537.7 510.0 L538.9 510.1 L540.1 510.1 L541.2 510.1 L542.4 510.2 L543.5 510.2 L544.7 510.2 L545.9 510.2" stroke="#e3c4ee" stroke-width="0.6"/>
<path d="M551.3 510.3 L590.0 506.6 L617.8 501.7 L638.6 496.8 L645.4 494.5 L651.0 491.4 L658.5 499.0 L664.9 503.8 L673.6 508.5 L683.0 509.8" stroke="#a8cbf7" stroke-width="0.7"/>
<path d="M630.3 510.3 L651.0 504.0 L660.4 503.5 L683.0 503.3" stroke="#b7dcb0" stroke-width="0.7"/>
<path d="M382.0 484.8 L383.2 484.9 L384.3 484.9 L385.5 485.0 L386.6 485.0 L387.8 485.1 L389.0 485.1 L390.1 485.2 L391.3 485.2 L392.5 485.3 L393.6 485.3 L394.8 485.3 L395.9 485.4 L397.1 485.4 L398.3 485.5 L399.4 485.5 L400.6 485.5 L400.8 485.5 L401.8 485.5 L402.9 485.6 L404.1 485.6 L405.2 485.6 L406.4 485.6 L407.6 485.7 L408.7 485.7 L409.9 485.7 L411.1 485.7 L412.2 485.8 L413.4 485.8 L414.5 485.8 L415.7 485.8 L416.9 485.8 L418.0 485.8 L419.2 485.9 L419.6 485.9 L420.4 485.9 L421.5 485.9 L422.7 485.9 L423.8 485.9 L425.0 485.9 L426.2 485.9 L427.3 485.9 L428.5 485.9 L429.6 485.9 L430.8 485.9 L432.0 485.9 L433.1 485.9 L434.3 485.9 L435.5 486.0 L436.6 486.0 L437.8 486.0 L438.4 486.0 L438.9 486.0 L440.1 486.0 L441.3 486.0 L442.4 486.0 L443.6 486.0 L444.8 486.0 L445.9 486.0 L447.1 486.0 L448.2 486.0 L449.4 486.0 L450.6 486.0 L451.7 486.0 L452.9 486.0 L454.1 486.0 L455.2 486.1 L456.4 486.1 L457.5 486.1 L458.4 486.1 L458.7 486.1 L459.9 486.1 L461.0 486.1 L462.2 486.1 L463.4 486.2 L464.5 486.2 L465.7 486.2 L466.8 486.2 L468.0 486.3 L469.2 486.3 L470.3 486.4 L471.5 486.4 L472.3 486.4 L472.6 486.4 L473.8 486.5 L475.0 486.5 L476.1 486.6 L477.3 486.6 L478.5 486.7 L479.6 486.7 L480.8 486.8 L481.7 486.9 L481.9 486.9 L483.1 487.0 L484.3 487.1 L485.4 487.3 L486.6 487.5 L487.8 487.7 L488.9 487.9 L490.1 488.2 L491.2 488.4 L492.4 488.7 L493.4 488.9 L493.6 488.9 L494.7 489.2 L495.9 489.5 L497.1 489.9 L498.2 490.3 L499.4 490.6 L500.5 491.0 L501.7 491.5 L502.9 491.9 L504.0 492.3 L505.0 492.6 L505.2 492.7 L506.4 493.1 L507.5 493.5 L508.7 493.8 L509.8 494.2 L511.0 494.7 L512.2 495.1 L513.3 495.5 L514.5 495.9 L515.6 496.4 L516.8 496.9 L517.5 497.1 L518.0 497.3 L519.1 497.9 L520.3 498.5 L521.5 499.1 L522.6 499.7 L523.8 500.3 L524.9 500.8 L525.5 501.1 L526.1 501.3 L527.3 501.8 L528.4 502.3 L529.6 502.8 L530.8 503.3 L531.9 503.7 L532.8 504.0 L533.1 504.1 L534.2 504.5 L535.4 504.9 L536.6 505.2 L537.7 505.5 L538.9 505.9 L540.0 506.1 L540.1 506.1 L541.2 506.4 L542.4 506.6 L543.5 506.9 L544.7 507.1 L545.9 507.3 L547.0 507.4 L547.4 507.5 L548.2 507.6 L549.4 507.8 L550.5 507.9 L551.7 508.1 L552.8 508.2 L554.0 508.3 L554.7 508.4 L555.2 508.4 L556.3 508.5 L557.5 508.7 L558.6 508.8 L559.8 508.8 L561.0 508.9 L562.1 509.0 L562.6 509.1 L563.3 509.1 L564.5 509.2 L565.6 509.3 L566.8 509.3 L567.9 509.4 L569.1 509.5 L570.1 509.5 L570.3 509.5 L571.4 509.6 L572.6 509.7 L573.8 509.7 L574.9 509.8 L576.1 509.8 L577.2 509.9 L578.4 510.0 L579.6 510.0 L580.7 510.1 L581.4 510.1 L581.9 510.1 L583.1 510.1 L584.2 510.2 L585.4 510.2 L586.5 510.2 L587.7 510.2" stroke="#ff8000" stroke-width="1.8"/>
<path d="M382.0 488.4 L383.2 488.4 L384.3 488.3 L385.5 488.3 L386.6 488.3 L387.8 488.2 L389.0 488.2 L390.1 488.1 L391.3 488.1 L392.5 488.0 L393.6 488.0 L394.8 488.0 L395.9 487.9 L397.1 487.9 L398.3 487.8 L399.4 487.8 L400.6 487.8 L400.8 487.8 L401.8 487.7 L402.9 487.7 L404.1 487.7 L405.2 487.6 L406.4 487.6 L407.6 487.6 L408.7 487.6 L409.9 487.5 L411.1 487.5 L412.2 487.5 L413.4 487.4 L414.5 487.4 L415.7 487.4 L416.9 487.4 L418.0 487.3 L419.2 487.3 L419.6 487.3 L420.4 487.3 L421.5 487.3 L422.7 487.3 L423.8 487.3 L425.0 487.2 L426.2 487.2 L427.3 487.2 L428.5 487.2 L429.6 487.2 L430.8 487.1 L432.0 487.1 L433.1 487.1 L434.3 487.1 L435.5 487.1 L436.6 487.1 L437.8 487.1 L438.4 487.1 L458.4 487.1 L458.7 487.1 L459.9 487.1 L461.0 487.1 L462.2 487.1 L463.4 487.2 L464.5 487.2 L465.7 487.2 L466.8 487.3 L468.0 487.3 L469.2 487.3 L470.3 487.4 L471.5 487.4 L472.3 487.4 L472.6 487.4 L473.8 487.5 L475.0 487.5 L476.1 487.5 L477.3 487.6 L478.5 487.6 L479.6 487.7 L480.8 487.7 L481.7 487.8 L481.9 487.8 L483.1 487.9 L484.3 488.0 L485.4 488.1 L486.6 488.3 L487.8 488.5 L488.9 488.7 L490.1 488.9 L491.2 489.1 L492.4 489.4 L493.4 489.6 L493.6 489.6 L494.7 489.9 L495.9 490.2 L497.1 490.5 L498.2 490.9 L499.4 491.3 L500.5 491.7 L501.7 492.0 L502.9 492.4 L504.0 492.8 L505.0 493.2 L505.2 493.2 L506.4 493.6 L507.5 494.0 L508.7 494.4 L509.8 494.7 L511.0 495.1 L512.2 495.5 L513.3 495.9 L514.5 496.3 L515.6 496.8 L516.8 497.2 L517.5 497.5 L518.0 497.7 L519.1 498.2 L520.3 498.8 L521.5 499.4 L522.6 499.9 L523.8 500.5 L524.9 501.0 L525.5 501.3 L526.1 501.5 L527.3 502.0 L528.4 502.5 L529.6 502.9 L530.8 503.3 L531.9 503.7 L532.8 504.0 L533.1 504.1 L534.2 504.5 L535.4 504.8 L536.6 505.2 L537.7 505.5 L538.9 505.9 L540.0 506.1 L540.1 506.1 L541.2 506.4 L542.4 506.6 L543.5 506.9 L544.7 507.1 L545.9 507.3 L547.0 507.4 L547.4 507.5 L548.2 507.6 L549.4 507.8 L550.5 507.9 L551.7 508.1 L552.8 508.2 L554.0 508.3 L554.7 508.4 L555.2 508.4 L556.3 508.5 L557.5 508.7 L558.6 508.8 L559.8 508.8 L561.0 508.9 L562.1 509.0 L562.6 509.1 L563.3 509.1 L564.5 509.2 L565.6 509.3 L566.8 509.3 L567.9 509.4 L569.1 509.5 L570.1 509.5 L570.3 509.5 L571.4 509.6 L572.6 509.7 L573.8 509.7 L574.9 509.8 L576.1 509.8 L577.2 509.9 L578.4 510.0 L579.6 510.0 L580.7 510.1 L581.4 510.1 L581.9 510.1 L583.1 510.1 L584.2 510.2 L585.4 510.2 L586.5 510.2 L587.7 510.2 L588.9 510.3 L590.0 510.3 L591.2 510.3 L592.4 510.3 L592.7 510.3 L683.0 510.3" stroke="#808000" stroke-width="1.8"/>
<path d="M382.0 337.7 L383.2 337.7 L384.3 337.7 L385.5 337.8 L386.6 337.8 L387.8 337.8 L389.0 337.8 L390.1 337.8 L391.3 337.8 L392.5 337.8 L393.6 337.9 L394.8 337.9 L395.9 337.9 L397.1 337.9 L398.3 337.9 L399.4 337.9 L400.6 337.9 L400.8 337.9 L401.8 338.0 L402.9 338.0 L404.1 338.0 L405.2 338.0 L406.4 338.0 L407.6 338.0 L408.7 338.0 L409.9 338.0 L411.1 338.1 L412.2 338.1 L413.4 338.1 L414.5 338.1 L415.7 338.1 L416.9 338.1 L418.0 338.1 L419.2 338.2 L419.6 338.2 L420.4 338.2 L421.5 338.2 L422.7 338.2 L423.8 338.2 L425.0 338.3 L426.2 338.3 L427.3 338.3 L428.5 338.3 L429.6 338.3 L430.8 338.3 L432.0 338.4 L433.1 338.4 L434.3 338.4 L435.5 338.4 L436.6 338.5 L437.8 338.5 L438.4 338.5 L438.9 338.5 L440.1 338.6 L441.3 338.6 L442.4 338.6 L443.6 338.6 L444.8 338.7 L445.9 338.7 L447.1 338.7 L448.2 338.8 L449.4 338.8 L450.6 338.9 L451.7 338.9 L452.9 339.0 L454.1 339.0 L455.2 339.1 L456.4 339.2 L457.5 339.2 L458.4 339.3 L458.7 339.3 L459.9 339.4 L461.0 339.6 L462.2 339.7 L463.4 339.9 L464.5 340.1 L465.7 340.4 L466.8 340.6 L468.0 340.9 L469.2 341.2 L470.3 341.6 L471.5 341.9 L472.6 342.3 L473.8 342.7 L475.0 343.1 L475.7 343.4 L476.1 343.5 L477.3 344.1 L478.5 344.7 L479.6 345.4 L480.8 346.3 L481.9 347.1 L483.1 348.1 L484.3 349.1 L484.7 349.4 L485.4 350.1 L486.6 351.3 L487.8 352.5 L488.9 353.9 L490.1 355.4 L491.2 356.9 L492.4 358.5 L493.4 359.8 L493.6 360.1 L494.7 361.7 L495.9 363.4 L497.1 365.1 L498.2 367.0 L498.6 367.7 L499.4 369.0 L500.5 371.0 L501.7 373.3 L502.9 375.7 L503.3 376.7 L504.0 378.3 L505.2 381.2 L506.4 384.4 L507.5 387.6 L508.0 389.1 L508.7 390.9 L509.8 394.2 L511.0 397.7 L512.2 401.1 L512.8 403.1 L513.3 404.5 L514.5 407.9 L515.6 411.4 L516.8 414.8 L518.0 418.2 L519.1 421.5 L520.1 424.2 L520.3 424.8 L521.5 428.1 L522.6 431.4 L523.8 434.7 L524.9 437.9 L526.1 441.1 L527.3 444.1 L527.4 444.5 L528.4 447.1 L529.6 450.0 L530.8 452.8 L531.9 455.5 L532.8 457.6 L533.1 458.2 L534.2 461.0 L535.4 463.7 L536.6 466.3 L537.7 468.9 L538.9 471.4 L540.0 473.6 L540.1 473.6 L541.2 475.7 L542.4 477.7 L543.5 479.6 L544.7 481.5 L545.9 483.2 L547.0 484.8 L547.4 485.3 L548.2 486.4 L549.4 487.9 L550.5 489.4 L551.7 490.8 L552.8 492.2 L554.0 493.4 L554.7 494.1 L555.2 494.5 L556.3 495.6 L557.5 496.6 L558.6 497.5 L559.8 498.4 L561.0 499.3 L562.0 499.9 L562.1 500.1 L563.3 500.8 L564.5 501.6 L565.6 502.3 L566.8 503.0 L567.9 503.6 L569.1 504.2 L569.3 504.2 L570.3 504.6 L571.4 505.1 L572.6 505.5 L573.8 505.9 L574.9 506.2 L576.1 506.6 L576.5 506.7 L577.2 506.9 L578.4 507.2 L579.6 507.4 L580.7 507.7 L581.9 507.9 L583.1 508.1 L583.9 508.3 L584.2 508.3 L585.4 508.5 L586.5 508.7 L587.7 508.8 L588.9 509.0 L590.0 509.1 L591.2 509.3 L592.4 509.4 L593.5 509.5 L594.0 509.5 L594.7 509.6 L595.8 509.6 L597.0 509.7 L598.2 509.7 L599.3 509.8 L600.5 509.8 L601.6 509.9 L602.8 509.9 L604.0 510.0 L605.1 510.0 L606.3 510.0 L607.5 510.1 L607.8 510.1 L608.6 510.1 L609.8 510.1 L610.9 510.2 L612.1 510.2 L613.3 510.2 L614.4 510.2" stroke="#ff1493" stroke-width="1.8"/>
<path d="M449.4 510.2 L450.6 510.2 L451.7 510.2 L452.9 510.2 L454.1 510.2 L455.2 510.1 L456.4 510.1 L457.2 510.1 L457.5 510.1 L458.7 510.0 L459.9 510.0 L461.0 509.9 L462.2 509.8 L463.4 509.8 L464.5 509.7 L465.7 509.6 L466.8 509.5 L468.0 509.4 L469.2 509.3 L470.0 509.2 L470.3 509.1 L471.5 509.0 L472.6 508.9 L473.8 508.8 L475.0 508.6 L476.1 508.5 L477.3 508.3 L478.5 508.1 L479.6 507.9 L480.8 507.7 L481.7 507.5 L481.9 507.4 L483.1 507.1 L484.3 506.7 L485.4 506.2 L486.6 505.6 L487.8 505.0 L488.9 504.3 L490.1 503.5 L491.2 502.7 L492.4 501.8 L493.4 501.1 L493.6 500.9 L494.7 499.8 L495.9 498.6 L497.1 497.1 L498.2 495.5 L499.4 493.8 L500.5 492.0 L501.7 490.1 L502.9 488.2 L504.0 486.3 L505.0 484.6 L505.2 484.4 L506.4 482.4 L507.5 480.3 L508.7 478.1 L509.8 475.8 L510.7 474.3 L511.0 473.6 L512.2 471.5 L513.3 469.3 L514.5 467.1 L515.6 464.8 L516.7 462.5 L516.8 462.3 L518.0 459.5 L519.1 456.4 L520.3 453.3 L520.8 451.9 L521.5 450.4 L522.6 447.5 L523.8 444.6 L524.9 441.7 L525.7 439.8 L526.1 438.9 L527.3 436.0 L528.4 433.3 L528.7 432.6 L529.6 430.7 L530.8 428.2 L531.9 425.8 L533.1 423.5 L534.2 421.2 L535.4 419.0 L535.5 418.8 L536.6 416.8 L537.7 414.6 L538.9 412.4 L540.1 410.4 L541.2 408.6 L541.9 407.6 L542.4 406.9 L543.5 405.4 L544.7 404.0 L545.9 402.7 L547.0 401.7 L547.5 401.3 L548.2 400.8 L549.4 400.0 L550.5 399.3 L551.7 398.7 L552.8 398.2 L553.2 398.1 L554.0 397.9 L555.2 397.6 L556.3 397.3 L557.5 397.1 L558.6 397.0 L559.6 397.0 L559.8 397.0 L561.0 397.1 L562.1 397.2 L563.3 397.5 L564.5 397.8 L565.6 398.1 L566.4 398.3 L566.8 398.5 L567.9 399.0 L569.1 399.6 L570.3 400.3 L571.4 401.1 L572.0 401.5 L572.6 401.9 L573.8 402.8 L574.9 403.8 L576.1 404.8 L577.2 406.0 L578.4 407.2 L579.6 408.5 L579.9 408.9 L580.7 409.9 L581.9 411.4 L583.1 413.0 L584.2 414.8 L585.4 416.6 L586.5 418.6 L587.7 420.6 L588.9 422.8 L590.0 424.9 L590.0 425.0 L591.2 427.4 L592.4 430.2 L593.5 433.1 L594.7 436.1 L595.8 439.0 L596.2 440.0 L597.0 441.8 L598.2 444.6 L599.3 447.5 L600.5 450.2 L601.6 453.0 L602.8 455.7 L603.9 458.0 L604.0 458.2 L605.1 460.8 L606.3 463.2 L607.5 465.7 L608.6 468.0 L609.8 470.2 L610.8 472.0 L610.9 472.3 L612.1 474.3 L613.3 476.3 L614.4 478.1 L615.6 479.9 L616.8 481.6 L617.8 483.0 L617.9 483.3 L619.1 484.9 L620.2 486.5 L621.4 488.1 L622.6 489.6 L623.7 491.0 L624.7 492.1 L624.9 492.3 L626.1 493.5 L627.2 494.6 L628.4 495.7 L629.5 496.8 L630.7 497.7 L631.6 498.4 L631.9 498.5 L633.0 499.3 L634.2 500.1 L635.4 500.8 L636.5 501.4 L637.7 502.0 L638.6 502.4 L638.8 502.5 L640.0 503.0 L641.2 503.4 L642.3 503.9 L643.5 504.3 L644.6 504.6 L645.4 504.9 L645.8 505.0 L647.0 505.4 L648.1 505.8 L649.3 506.2 L649.5 506.2 L650.5 506.6 L651.6 507.2 L652.8 507.8 L653.9 508.3 L655.1 508.7 L655.2 508.7 L656.3 509.0 L657.4 509.2 L658.6 509.3 L659.8 509.5 L660.9 509.6 L662.1 509.7 L662.1 509.7 L663.2 509.8 L664.4 509.9 L665.6 510.0 L666.7 510.1 L667.9 510.2 L669.1 510.2" stroke="#800080" stroke-width="1.8"/>
<path d="M382.0 510.3 L419.6 510.3 L420.4 510.3 L421.5 510.3 L422.7 510.3 L423.8 510.2 L425.0 510.2 L426.2 510.2 L427.3 510.1 L428.5 510.1 L429.6 510.0 L430.8 510.0 L430.9 510.0 L432.0 509.9 L433.1 509.9 L434.3 509.8 L435.5 509.7 L436.6 509.7 L437.8 509.6 L438.9 509.5 L440.1 509.4 L441.3 509.4 L442.4 509.3 L443.6 509.2 L444.8 509.1 L445.9 509.0 L446.0 508.9 L447.1 508.8 L448.2 508.7 L449.4 508.5 L450.6 508.3 L451.7 508.1 L452.9 507.9 L454.1 507.7 L455.2 507.5 L456.4 507.3 L457.5 507.1 L458.4 506.9 L458.7 506.9 L459.9 506.7 L461.0 506.5 L462.2 506.3 L463.4 506.1 L464.5 505.8 L465.7 505.6 L466.8 505.4 L468.0 505.2 L469.2 504.9 L470.0 504.7 L470.3 504.6 L471.5 504.3 L472.6 503.9 L473.8 503.6 L475.0 503.2 L476.1 502.8 L477.3 502.3 L478.5 501.9 L479.6 501.4 L480.8 500.8 L481.7 500.4 L481.9 500.3 L483.1 499.6 L484.3 498.9 L485.4 498.2 L486.6 497.4 L487.8 496.5 L488.9 495.6 L490.1 494.6 L491.2 493.6 L492.4 492.5 L493.4 491.6 L493.6 491.4 L494.7 490.2 L495.9 488.9 L497.1 487.4 L498.2 485.9 L499.4 484.3 L500.5 482.7 L501.7 481.1 L502.9 479.5 L504.0 477.9 L505.0 476.5 L505.2 476.3 L506.4 474.8 L507.5 473.2 L508.7 471.6 L509.8 470.0 L511.0 468.4 L512.2 466.8 L513.3 465.3 L514.5 463.7 L515.6 462.1 L516.7 460.7 L516.8 460.6 L518.0 459.0 L519.1 457.5 L520.3 455.9 L521.5 454.4 L522.6 453.0 L523.5 451.9 L523.8 451.6 L524.9 450.3 L526.1 449.0 L527.3 447.8 L528.4 446.8 L528.4 446.7 L529.6 445.6 L530.8 444.6 L531.9 443.6 L533.1 442.6 L534.2 441.7 L535.4 440.8 L536.5 440.0 L536.6 439.9 L537.7 439.1 L538.9 438.2 L540.1 437.4 L541.2 436.6 L542.4 435.9 L543.5 435.2 L543.8 435.0 L544.7 434.6 L545.9 434.0 L547.0 433.4 L548.2 432.9 L549.4 432.6 L549.4 432.6 L550.5 432.3 L551.7 432.1 L552.8 431.9 L554.0 431.7 L555.2 431.7 L555.5 431.7 L556.3 431.7 L557.5 431.8 L558.6 431.9 L559.8 432.1 L561.0 432.3 L562.1 432.5 L562.6 432.6 L563.3 432.7 L564.5 433.0 L565.6 433.4 L566.8 433.9 L567.9 434.4 L569.1 435.0 L570.1 435.5 L570.3 435.6 L571.4 436.2 L572.6 437.0 L573.8 437.8 L574.9 438.7 L576.1 439.6 L576.5 440.0 L577.2 440.6 L578.4 441.7 L579.6 442.8 L580.7 444.0 L581.9 445.2 L583.1 446.4 L583.9 447.2 L584.2 447.6 L585.4 448.8 L586.5 450.0 L587.7 451.2 L588.9 452.6 L590.0 454.0 L590.0 454.0 L591.2 455.7 L592.4 457.6 L593.5 459.6 L594.7 461.7 L595.8 463.8 L597.0 465.7 L597.0 465.8 L598.2 467.7 L599.3 469.6 L600.5 471.5 L601.6 473.3 L602.8 475.1 L603.9 476.7 L604.0 476.9 L605.1 478.6 L606.3 480.3 L607.5 482.0 L608.6 483.6 L609.8 485.1 L610.8 486.4 L610.9 486.7 L612.1 488.1 L613.3 489.6 L614.4 491.0 L615.6 492.4 L616.8 493.7 L617.8 494.8 L617.9 494.9 L619.1 496.1 L620.2 497.3 L621.4 498.4 L622.6 499.5 L623.7 500.4 L624.7 501.1 L624.9 501.2 L626.1 501.9 L627.2 502.5 L628.4 503.1 L629.5 503.6 L630.7 504.1 L631.6 504.4 L631.9 504.5 L633.0 505.0 L634.2 505.4 L635.4 505.7 L636.5 506.1 L637.7 506.4 L638.6 506.6 L638.8 506.6 L640.0 506.9 L641.2 507.0 L642.3 507.2 L643.5 507.4 L644.6 507.6 L645.4 507.7 L645.8 507.8 L647.0 508.0 L648.1 508.3 L649.3 508.5 L649.5 508.5 L650.5 508.6 L651.6 508.8 L652.8 509.0 L653.9 509.1 L655.1 509.2 L656.3 509.4 L656.7 509.4 L657.4 509.5 L658.6 509.6 L659.8 509.7 L660.9 509.8 L662.1 509.9 L663.2 510.0 L664.4 510.0 L665.6 510.1 L666.7 510.1 L667.9 510.2 L668.0 510.2 L669.1 510.2 L670.2 510.2 L671.4 510.3 L672.5 510.3 L673.7 510.3 L674.9 510.3 L675.5 510.3 L683.0 510.3" stroke="#5b6cff" stroke-width="1.8"/>
<path d="M498.2 510.3 L499.4 510.2 L500.5 510.2 L501.7 510.1 L502.9 510.1 L504.0 510.0 L505.2 509.9 L506.4 509.8 L507.5 509.7 L508.7 509.7 L509.8 509.6 L511.0 509.5 L512.2 509.4 L513.3 509.3 L514.5 509.2 L515.6 509.1 L516.8 509.0 L518.0 509.0 L518.2 508.9 L519.1 508.9 L520.3 508.8 L521.5 508.7 L522.6 508.7 L523.8 508.6 L524.9 508.5 L526.1 508.4 L527.3 508.3 L528.4 508.2 L529.6 508.1 L530.8 508.0 L531.9 507.9 L532.8 507.8 L533.1 507.8 L534.2 507.6 L535.4 507.5 L536.6 507.2 L537.7 507.0 L538.9 506.7 L540.0 506.5 L540.1 506.5 L541.2 506.1 L542.4 505.7 L543.5 505.3 L544.7 504.8 L545.9 504.3 L547.0 503.7 L547.4 503.5 L548.2 503.1 L549.4 502.5 L550.5 501.9 L551.7 501.1 L552.8 500.4 L554.0 499.6 L554.7 499.0 L555.2 498.7 L556.3 497.7 L557.5 496.6 L558.6 495.4 L559.8 494.2 L561.0 492.9 L562.0 491.8 L562.1 491.6 L563.3 490.4 L564.5 489.1 L565.6 487.7 L566.8 486.3 L567.9 484.8 L569.1 483.3 L569.3 483.0 L570.3 481.6 L571.4 479.7 L572.6 477.7 L573.8 475.7 L574.9 473.6 L576.1 471.5 L576.5 470.6 L577.2 469.3 L578.4 467.2 L579.6 465.0 L580.7 462.7 L581.9 460.3 L583.1 457.8 L583.9 456.0 L584.2 455.1 L585.4 452.1 L586.5 448.8 L587.7 445.4 L588.9 442.0 L590.0 438.9 L590.0 438.8 L591.2 435.6 L592.4 432.5 L593.5 429.4 L594.7 426.4 L595.8 423.5 L597.0 420.9 L597.0 420.7 L598.2 418.1 L599.3 415.4 L600.5 412.9 L601.6 410.5 L602.8 408.5 L603.9 406.9 L604.0 406.8 L605.1 405.2 L606.3 403.8 L607.5 402.5 L608.6 401.4 L609.8 400.6 L610.8 400.1 L610.9 400.1 L612.1 399.7 L613.3 399.4 L614.4 399.2 L614.9 399.2 L615.6 399.3 L616.8 399.6 L617.9 400.2 L619.1 400.9 L620.2 401.7 L620.5 401.9 L621.4 402.7 L622.6 404.0 L623.7 405.5 L624.9 407.2 L626.1 408.9 L626.1 408.9 L627.2 410.6 L628.4 412.5 L629.5 414.5 L630.7 416.4 L631.6 417.9 L631.9 418.3 L633.0 420.2 L634.2 422.2 L635.4 424.1 L636.5 425.9 L637.7 427.8 L638.6 429.2 L638.8 429.5 L640.0 431.3 L641.2 433.0 L642.3 434.7 L643.5 436.3 L644.6 437.9 L645.4 438.9 L645.8 439.4 L647.0 440.5 L648.1 441.7 L649.3 443.4 L649.5 443.8 L650.5 448.0 L651.6 455.7 L651.8 456.7 L652.8 463.5 L653.9 471.5 L654.5 474.7 L655.1 477.5 L656.3 482.5 L657.4 486.7 L658.0 488.4 L658.6 490.2 L659.8 493.4 L660.9 496.1 L662.1 498.3 L662.1 498.4 L663.2 500.1 L664.4 501.7 L665.6 503.1 L666.3 503.8 L666.7 504.1 L667.9 505.1 L669.1 506.0 L670.2 506.7 L671.4 507.2 L671.7 507.4 L672.5 507.6 L673.7 508.0 L674.9 508.2 L676.0 508.5 L677.2 508.7 L678.4 508.9 L678.9 508.9 L679.5 509.0 L680.7 509.2 L681.8 509.3 L683.0 509.4" stroke="#404040" stroke-width="1.8"/>
<path d="M558.6 510.2 L559.8 510.2 L561.0 510.2 L562.1 510.1 L563.3 510.0 L564.5 510.0 L565.6 509.9 L566.8 509.8 L567.9 509.7 L569.1 509.5 L570.3 509.4 L571.4 509.3 L572.6 509.1 L573.8 509.0 L574.9 508.8 L576.1 508.7 L576.5 508.6 L577.2 508.5 L578.4 508.2 L579.6 507.8 L580.7 507.3 L581.9 506.8 L583.1 506.2 L583.9 505.8 L584.2 505.6 L585.4 504.9 L586.5 504.0 L587.7 503.1 L588.9 502.1 L590.0 501.1 L590.0 501.0 L591.2 499.9 L592.4 498.6 L593.5 497.3 L594.7 495.8 L595.8 494.3 L597.0 492.7 L597.0 492.7 L598.2 490.8 L599.3 488.8 L600.5 486.6 L601.6 484.3 L602.8 482.1 L603.9 480.1 L604.0 479.9 L605.1 477.9 L606.3 475.9 L607.5 473.9 L608.6 471.8 L609.8 469.7 L610.8 467.7 L610.9 467.3 L612.1 464.8 L613.3 462.0 L614.4 459.1 L615.6 456.1 L616.8 453.1 L617.8 450.6 L617.9 450.2 L619.1 447.4 L620.2 444.5 L621.4 441.4 L621.9 440.0 L622.6 437.9 L623.7 433.8 L624.7 430.5 L624.9 429.9 L626.1 426.4 L627.2 422.9 L628.4 419.6 L629.5 416.5 L630.7 413.4 L631.6 411.2 L631.9 410.5 L633.0 407.7 L634.2 404.9 L635.4 402.2 L636.5 399.8 L637.7 397.5 L638.6 395.8 L638.8 395.5 L640.0 393.6 L641.2 391.8 L642.3 390.2 L643.5 388.8 L644.6 387.5 L645.4 386.8 L645.8 386.5 L647.0 385.7 L648.1 385.0 L648.8 384.6 L649.3 384.1 L649.4 384.1 L650.1 389.8 L650.5 392.7 L651.6 401.6 L651.8 402.8 L652.8 411.9 L653.8 420.9 L653.9 422.0 L655.1 430.1 L656.3 437.8 L656.6 440.0 L657.4 446.4 L658.6 455.6 L659.3 460.7 L659.8 464.0 L660.9 471.8 L662.1 478.6 L662.1 478.8 L663.2 484.0 L664.4 488.8 L665.6 492.7 L665.6 492.7 L666.7 496.0 L667.9 498.8 L669.1 501.0 L669.1 501.1 L670.2 502.7 L671.4 504.2 L672.5 505.3 L673.2 505.8 L673.7 506.1 L674.9 506.8 L676.0 507.3 L677.2 507.8 L678.4 508.1 L678.9 508.3 L679.5 508.4 L680.7 508.7 L681.8 508.9 L683.0 509.1" stroke="#68a81c" stroke-width="1.8"/>
<path d="M382.0 510.3 L649.5 510.3 L651.0 495.4 L652.5 472.0 L654.2 440.0 L655.3 416.6 L657.4 391.6 L659.3 375.1 L660.8 356.0 L662.3 339.5 L664.6 327.8 L666.8 318.8 L669.1 312.0 L671.3 306.9 L674.3 302.3 L677.4 299.4 L680.0 298.1 L682.6 297.2" stroke="#ff0000" stroke-width="1.8"/>
</g>
<rect x="382.0" y="273.9" width="301.0" height="247.7" fill="none" stroke="#000" stroke-width="1.7"/>
<rect x="548.20" y="272.9" width="20.80" height="248.9" fill="#a0dafb" fill-opacity="0.45"/><rect x="548.20" y="272.9" width="1.8" height="248.9" fill="#6cc0f5" fill-opacity="0.16"/><rect x="567.20" y="272.9" width="1.8" height="248.9" fill="#6cc0f5" fill-opacity="0.16"/>
<path d="M381.5 510.3h-4.1 M381.5 487.8h-2.4 M381.5 465.2h-4.1 M381.5 442.7h-2.4 M381.5 420.2h-4.1 M381.5 397.6h-2.4 M381.5 375.1h-4.1 M381.5 352.6h-2.4 M381.5 330.1h-4.1 M381.5 307.5h-2.4 M381.5 285.0h-4.1 M382.0 522.1v2.6 M419.6 522.1v4.6 M457.2 522.1v2.6 M494.9 522.1v4.6 M532.5 522.1v2.6 M570.1 522.1v4.6 M607.8 522.1v2.6 M645.4 522.1v4.6 M683.0 522.1v2.6" stroke="#000" stroke-width="1.75" fill="none"/>
<text transform="translate(419.6,539.8) scale(1,1.08)" font-size="12.6" font-weight="bold" text-anchor="middle">4</text>
<text transform="translate(494.9,539.8) scale(1,1.08)" font-size="12.6" font-weight="bold" text-anchor="middle">6</text>
<text transform="translate(570.1,539.8) scale(1,1.08)" font-size="12.6" font-weight="bold" text-anchor="middle">8</text>
<text transform="translate(645.4,539.8) scale(1,1.08)" font-size="12.6" font-weight="bold" text-anchor="middle">10</text>
</g>
<text x="97.7" y="58.2" font-size="12.6" fill="#ff1493" fill-opacity="0.9">AmSO</text>
<text x="134.9" y="61.6" font-size="8.5" fill="#ff1493" fill-opacity="0.9">4</text>
<text x="134.9" y="52.6" font-size="8.5" fill="#ff1493" fill-opacity="0.9">+</text>
<text x="146.1" y="30.5" font-size="12.6" fill="#148a0e" fill-opacity="0.9">AmCO</text>
<text x="184.0" y="33.9" font-size="8.5" fill="#148a0e" fill-opacity="0.9">3</text>
<text x="188.7" y="30.5" font-size="12.6" fill="#148a0e" fill-opacity="0.9">OH</text>
<text x="207.6" y="33.9" font-size="8.5" fill="#148a0e" fill-opacity="0.9">(cr)</text>
<text x="293.3" y="31.8" font-size="12.6" fill="#ff0000" fill-opacity="0.9">Am(OH)</text>
<text x="339.6" y="35.2" font-size="8.5" fill="#ff0000" fill-opacity="0.9">3(cr)</text>
<text x="107.2" y="158.1" font-size="12.6" fill="#5b6cff" fill-opacity="0.9">AmSiO(OH)</text>
<text x="174.5" y="161.5" font-size="8.5" fill="#5b6cff" fill-opacity="0.9">3</text>
<text x="174.5" y="152.5" font-size="8.5" fill="#5b6cff" fill-opacity="0.9">2+</text>
<text x="112.2" y="193.6" font-size="12.6" fill="#808000" fill-opacity="0.9">Am(SO</text>
<text x="153.6" y="197.0" font-size="8.5" fill="#808000" fill-opacity="0.9">4</text>
<text x="158.3" y="193.6" font-size="12.6" fill="#808000" fill-opacity="0.9">)</text>
<text x="162.5" y="197.0" font-size="8.5" fill="#808000" fill-opacity="0.9">2</text>
<text x="162.5" y="188.0" font-size="8.5" fill="#808000" fill-opacity="0.9">-</text>
<text x="61.7" y="204.6" font-size="12.6" fill="#ff8000" fill-opacity="0.9">Am</text>
<text x="80.6" y="199.0" font-size="8.5" fill="#ff8000" fill-opacity="0.9">3+</text>
<text x="226.1" y="181.5" font-size="12.6" fill="#800080" fill-opacity="0.9">AmCO</text>
<text x="264.0" y="184.9" font-size="8.5" fill="#800080" fill-opacity="0.9">3</text>
<text x="264.0" y="175.9" font-size="8.5" fill="#800080" fill-opacity="0.9">+</text>
<path d="M160.0 165.0L179.3 190.4" stroke="#5b6cff" stroke-width="1.1" fill="none"/><path d="M182.6 194.8L176.6 191.2L180.7 188.0Z" fill="#5b6cff"/>
<path d="M127.0 197.8L120.8 210.6" stroke="#808000" stroke-width="1.1" fill="none"/><path d="M118.4 215.6L118.9 208.6L123.6 210.9Z" fill="#808000"/>
<text x="409.6" y="57.3" font-size="12.6" fill="#ff1493" fill-opacity="0.9">AmSO</text>
<text x="446.8" y="60.7" font-size="8.5" fill="#ff1493" fill-opacity="0.9">4</text>
<text x="446.8" y="51.7" font-size="8.5" fill="#ff1493" fill-opacity="0.9">+</text>
<text x="538.6" y="56.2" font-size="12.6" fill="#148a0e" fill-opacity="0.9">AmCO</text>
<text x="576.5" y="59.6" font-size="8.5" fill="#148a0e" fill-opacity="0.9">3</text>
<text x="581.2" y="56.2" font-size="12.6" fill="#148a0e" fill-opacity="0.9">OH</text>
<text x="600.1" y="59.6" font-size="8.5" fill="#148a0e" fill-opacity="0.9">(cr)</text>
<text x="618.0" y="36.2" font-size="12.6" fill="#ff0000" fill-opacity="0.9">Am(OH)</text>
<text x="664.3" y="39.6" font-size="8.5" fill="#ff0000" fill-opacity="0.9">3(cr)</text>
<text x="433.1" y="160.7" font-size="12.6" fill="#5b6cff" fill-opacity="0.9">AmSiO(OH)</text>
<text x="500.4" y="164.1" font-size="8.5" fill="#5b6cff" fill-opacity="0.9">3</text>
<text x="500.4" y="155.1" font-size="8.5" fill="#5b6cff" fill-opacity="0.9">2+</text>
<text x="427.4" y="190.9" font-size="12.6" fill="#808000" fill-opacity="0.9">Am(SO</text>
<text x="468.8" y="194.3" font-size="8.5" fill="#808000" fill-opacity="0.9">4</text>
<text x="473.5" y="190.9" font-size="12.6" fill="#808000" fill-opacity="0.9">)</text>
<text x="477.7" y="194.3" font-size="8.5" fill="#808000" fill-opacity="0.9">2</text>
<text x="477.7" y="185.3" font-size="8.5" fill="#808000" fill-opacity="0.9">-</text>
<text x="394.7" y="206.0" font-size="12.6" fill="#ff8000" fill-opacity="0.9">Am</text>
<text x="413.6" y="200.4" font-size="8.5" fill="#ff8000" fill-opacity="0.9">3+</text>
<text x="508.1" y="106.7" font-size="12.6" fill="#800080" fill-opacity="0.9">AmCO</text>
<text x="546.0" y="110.1" font-size="8.5" fill="#800080" fill-opacity="0.9">3</text>
<text x="546.0" y="101.1" font-size="8.5" fill="#800080" fill-opacity="0.9">+</text>
<text x="623.8" y="203.3" font-size="12.6" fill="#404040" fill-opacity="0.9">Am(CO</text>
<text x="665.9" y="206.7" font-size="8.5" fill="#404040" fill-opacity="0.9">3</text>
<text x="670.6" y="203.3" font-size="12.6" fill="#404040" fill-opacity="0.9">)</text>
<text x="674.8" y="206.7" font-size="8.5" fill="#404040" fill-opacity="0.9">2</text>
<text x="674.8" y="197.7" font-size="8.5" fill="#404040" fill-opacity="0.9">-</text>
<path d="M490.4 167.8L509.0 191.5" stroke="#5b6cff" stroke-width="1.1" fill="none"/><path d="M512.4 195.8L506.3 192.3L510.4 189.1Z" fill="#5b6cff"/>
<path d="M449.5 198.5L443.8 209.9" stroke="#808000" stroke-width="1.1" fill="none"/><path d="M441.3 214.8L441.9 207.8L446.5 210.2Z" fill="#808000"/>
<text x="70.5" y="328.1" font-size="12.6" fill="#ff1493" fill-opacity="0.9">AmSO</text>
<text x="107.7" y="331.5" font-size="8.5" fill="#ff1493" fill-opacity="0.9">4</text>
<text x="107.7" y="322.5" font-size="8.5" fill="#ff1493" fill-opacity="0.9">+</text>
<text x="95.2" y="418.4" font-size="12.6" fill="#5b6cff" fill-opacity="0.9">AmSiO(OH)</text>
<text x="162.5" y="421.8" font-size="8.5" fill="#5b6cff" fill-opacity="0.9">3</text>
<text x="162.5" y="412.8" font-size="8.5" fill="#5b6cff" fill-opacity="0.9">2+</text>
<text x="69.0" y="470.8" font-size="14.0" fill="#ff8000" fill-opacity="0.9">Am</text>
<text x="90.0" y="465.2" font-size="9.2" fill="#ff8000" fill-opacity="0.9">3+</text>
<text x="119.2" y="466.2" font-size="12.6" fill="#808000" fill-opacity="0.9">Am(SO</text>
<text x="160.6" y="469.6" font-size="8.5" fill="#808000" fill-opacity="0.9">4</text>
<text x="165.3" y="466.2" font-size="12.6" fill="#808000" fill-opacity="0.9">)</text>
<text x="169.5" y="469.6" font-size="8.5" fill="#808000" fill-opacity="0.9">2</text>
<text x="169.5" y="460.6" font-size="8.5" fill="#808000" fill-opacity="0.9">-</text>
<text x="188.3" y="386.3" font-size="12.6" fill="#800080" fill-opacity="0.9">AmCO</text>
<text x="226.2" y="389.7" font-size="8.5" fill="#800080" fill-opacity="0.9">3</text>
<text x="226.2" y="380.7" font-size="8.5" fill="#800080" fill-opacity="0.9">+</text>
<text x="244.7" y="371.1" font-size="12.6" fill="#008080" fill-opacity="0.9">Am(CO</text>
<text x="286.8" y="374.5" font-size="8.5" fill="#008080" fill-opacity="0.9">3</text>
<text x="291.5" y="371.1" font-size="12.6" fill="#008080" fill-opacity="0.9">)</text>
<text x="295.7" y="374.5" font-size="8.5" fill="#008080" fill-opacity="0.9">3</text>
<text x="295.7" y="365.5" font-size="8.5" fill="#008080" fill-opacity="0.9">3-</text>
<text x="297.5" y="405.8" font-size="12.6" fill="#404040" fill-opacity="0.9">Am(CO</text>
<text x="339.6" y="409.2" font-size="8.5" fill="#404040" fill-opacity="0.9">3</text>
<text x="344.3" y="405.8" font-size="12.6" fill="#404040" fill-opacity="0.9">)</text>
<text x="348.5" y="409.2" font-size="8.5" fill="#404040" fill-opacity="0.9">2</text>
<text x="348.5" y="400.2" font-size="8.5" fill="#404040" fill-opacity="0.9">-</text>
<text x="254.1" y="299.5" font-size="12.6" fill="#ff0000" fill-opacity="0.9">Am(OH)</text>
<text x="300.4" y="302.9" font-size="8.5" fill="#ff0000" fill-opacity="0.9">3(cr)</text>
<path d="M133.3 470.4L127.6 482.5" stroke="#808000" stroke-width="1.1" fill="none"/><path d="M125.2 487.5L125.6 480.5L130.3 482.7Z" fill="#808000"/>
<path d="M286.5 377.0L294.8 420.2" stroke="#008080" stroke-width="1.1" fill="none"/><path d="M295.8 425.6L292.0 419.7L297.1 418.7Z" fill="#008080"/>
<text x="410.8" y="327.6" font-size="12.6" fill="#ff1493" fill-opacity="0.9">AmSO</text>
<text x="448.0" y="331.0" font-size="8.5" fill="#ff1493" fill-opacity="0.9">4</text>
<text x="448.0" y="322.0" font-size="8.5" fill="#ff1493" fill-opacity="0.9">+</text>
<text x="436.3" y="442.3" font-size="12.6" fill="#5b6cff" fill-opacity="0.9">AmSiO(OH)</text>
<text x="503.6" y="445.7" font-size="8.5" fill="#5b6cff" fill-opacity="0.9">3</text>
<text x="503.6" y="436.7" font-size="8.5" fill="#5b6cff" fill-opacity="0.9">2+</text>
<text x="391.0" y="476.4" font-size="14.6" fill="#ff8000" fill-opacity="0.9">Am</text>
<text x="412.9" y="470.8" font-size="9.6" fill="#ff8000" fill-opacity="0.9">3+</text>
<text x="431.2" y="481.4" font-size="12.6" fill="#808000" fill-opacity="0.9">Am(SO</text>
<text x="472.6" y="484.8" font-size="8.5" fill="#808000" fill-opacity="0.9">4</text>
<text x="477.3" y="481.4" font-size="12.6" fill="#808000" fill-opacity="0.9">)</text>
<text x="481.5" y="484.8" font-size="8.5" fill="#808000" fill-opacity="0.9">2</text>
<text x="481.5" y="475.8" font-size="8.5" fill="#808000" fill-opacity="0.9">-</text>
<text x="518.6" y="385.4" font-size="12.6" fill="#800080" fill-opacity="0.9">AmCO</text>
<text x="556.5" y="388.8" font-size="8.5" fill="#800080" fill-opacity="0.9">3</text>
<text x="556.5" y="379.8" font-size="8.5" fill="#800080" fill-opacity="0.9">+</text>
<text x="578.7" y="391.5" font-size="12.6" fill="#404040" fill-opacity="0.9">Am(CO</text>
<text x="620.8" y="394.9" font-size="8.5" fill="#404040" fill-opacity="0.9">3</text>
<text x="625.5" y="391.5" font-size="12.6" fill="#404040" fill-opacity="0.9">)</text>
<text x="629.7" y="394.9" font-size="8.5" fill="#404040" fill-opacity="0.9">2</text>
<text x="629.7" y="385.9" font-size="8.5" fill="#404040" fill-opacity="0.9">-</text>
<text x="590.3" y="361.0" font-size="12.6" fill="#68a81c" fill-opacity="0.9">Am(CO</text>
<text x="632.4" y="364.4" font-size="8.5" fill="#68a81c" fill-opacity="0.9">3</text>
<text x="637.1" y="361.0" font-size="12.6" fill="#68a81c" fill-opacity="0.9">)</text>
<text x="641.3" y="364.4" font-size="8.5" fill="#68a81c" fill-opacity="0.9">3</text>
<text x="641.3" y="355.4" font-size="8.5" fill="#68a81c" fill-opacity="0.9">3-</text>
<text x="599.9" y="303.8" font-size="12.6" fill="#ff0000" fill-opacity="0.9">Am(OH)</text>
<text x="646.2" y="307.2" font-size="8.5" fill="#ff0000" fill-opacity="0.9">3(cr)</text>
<path d="M492.4 447.4L505.7 465.8" stroke="#5b6cff" stroke-width="1.1" fill="none"/><path d="M508.9 470.3L503.0 466.5L507.2 463.5Z" fill="#5b6cff"/>
<path d="M636.5 364.5L642.6 380.3" stroke="#68a81c" stroke-width="1.1" fill="none"/><path d="M644.6 385.4L639.8 380.3L644.7 378.4Z" fill="#68a81c"/>
<text x="6.8" y="14.4" font-size="12.2" font-weight="bold" fill="#000">(a)</text>
<text x="61.0" y="21.2" font-family="'Liberation Serif', 'Times New Roman', serif" font-size="15.6" font-weight="bold" font-style="italic" fill="#000">1×10<tspan dy="-5.5" font-size="9.5">-6</tspan><tspan dy="5.5"> M</tspan></text>
<text x="387.0" y="18.9" font-size="12.2" font-weight="bold" fill="#000">(b)</text>
<text x="407.8" y="20.6" font-family="'Liberation Serif', 'Times New Roman', serif" font-size="15.6" font-weight="bold" font-style="italic" fill="#000">1×10<tspan dy="-5.5" font-size="9.5">-7</tspan><tspan dy="5.5"> M</tspan></text>
<text x="1.9" y="288.2" font-size="12.2" font-weight="bold" fill="#000">(c)</text>
<text x="60.4" y="293.0" font-family="'Liberation Serif', 'Times New Roman', serif" font-size="15.6" font-weight="bold" font-style="italic" fill="#000">1×10<tspan dy="-5.5" font-size="9.5">-8</tspan><tspan dy="5.5"> M</tspan></text>
<text x="386.2" y="288.6" font-size="12.2" font-weight="bold" fill="#000">(d)</text>
<text x="404.8" y="289.8" font-family="'Liberation Serif', 'Times New Roman', serif" font-size="15.6" font-weight="bold" font-style="italic" fill="#000">1×10<tspan dy="-5.5" font-size="9.5">-9</tspan><tspan dy="5.5"> M</tspan></text>
<text transform="translate(17.2,125.7) rotate(-90)" font-size="18" text-anchor="middle" fill="#000">Species %</text>
<text transform="translate(17.3,398.0) rotate(-90)" font-size="21" text-anchor="middle" fill="#000">Species %</text>
<text x="204.6" y="565.6" font-size="18" text-anchor="middle" fill="#000">pH</text>
<text x="532.6" y="563.6" font-size="14.5" text-anchor="middle" fill="#000">pH</text>
</svg>
</body></html>
